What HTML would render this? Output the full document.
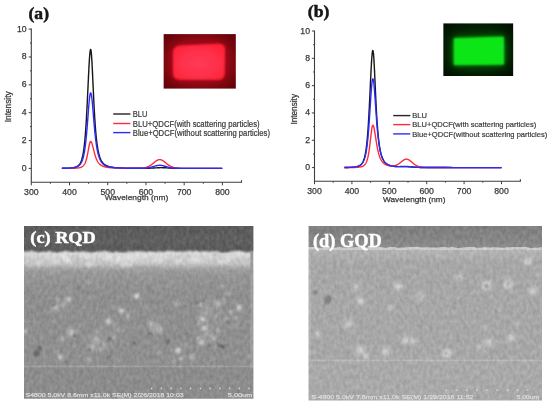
<!DOCTYPE html>
<html><head><meta charset="utf-8"><title>Figure</title><style>
html,body{margin:0;padding:0;background:#fff;}
body{width:550px;height:406px;overflow:hidden;position:relative;}
svg{position:absolute;left:0;top:0;}
</style></head><body>
<svg width="550" height="406" viewBox="0 0 550 406">
<defs><filter id="soft" x="0" y="0" width="100%" height="100%"><feGaussianBlur stdDeviation="0.35"/></filter></defs>

<defs>
 <filter id="blur1" x="-20%" y="-20%" width="140%" height="140%"><feGaussianBlur stdDeviation="1.0"/></filter>
 <filter id="blur3" x="-30%" y="-30%" width="160%" height="160%"><feGaussianBlur stdDeviation="4.2"/></filter>
 <radialGradient id="rg" cx="0.5" cy="0.55" r="0.65"><stop offset="0" stop-color="#ff3a58"/><stop offset="0.6" stop-color="#ff2e48"/><stop offset="1" stop-color="#ff2034"/></radialGradient>
 <radialGradient id="ro" cx="0.5" cy="0.5" r="0.72"><stop offset="0.55" stop-color="#8a0a12"/><stop offset="1" stop-color="#5a0008"/></radialGradient>
 <radialGradient id="go" cx="0.5" cy="0.5" r="0.75"><stop offset="0.5" stop-color="#042204"/><stop offset="1" stop-color="#000c00"/></radialGradient>
 <clipPath id="rclip"><rect x="163.4" y="34.1" width="72.5" height="54.7"/></clipPath>
 <clipPath id="gclip"><rect x="443.2" y="23.2" width="70.2" height="52.9"/></clipPath>
</defs>
<g clip-path="url(#rclip)">
<rect x="163.4" y="34.1" width="72.5" height="54.7" fill="url(#ro)"/>
<path d="M181 45.6 L218 43.7 Q225 43.4 225 50 L224.6 73.5 Q224.5 79.8 218 79.8 L180 79.8 Q173 79.8 173 73 L173 53 Q173 46 181 45.6 Z" fill="#c01020" filter="url(#blur3)"/>
<path d="M181 45.6 L218 43.7 Q225 43.4 225 50 L224.6 73.5 Q224.5 79.8 218 79.8 L180 79.8 Q173 79.8 173 73 L173 53 Q173 46 181 45.6 Z" fill="url(#rg)" filter="url(#blur1)"/>
</g>
<g clip-path="url(#gclip)">
<rect x="443.2" y="23.2" width="70.2" height="52.9" fill="url(#go)"/>
<path d="M454.5 37.9 L503.2 36.4 Q504 36.4 504 37.3 L504.2 64 Q504.2 64.8 503.4 64.8 L454.5 65.2 Q453.6 65.2 453.6 64.3 L453.6 38.8 Q453.6 37.9 454.5 37.9 Z" fill="#0a8a10" filter="url(#blur3)"/>
<path d="M454.5 37.9 L503.2 36.4 Q504 36.4 504 37.3 L504.2 64 Q504.2 64.8 503.4 64.8 L454.5 65.2 Q453.6 65.2 453.6 64.3 L453.6 38.8 Q453.6 37.9 454.5 37.9 Z" fill="#0ae614" filter="url(#blur1)"/>
<circle cx="502" cy="48" r="0.9" fill="#30c8a0"/>
</g>

<g filter="url(#soft)">

<g font-family="Liberation Serif, Times New Roman, serif" font-weight="bold" fill="#141414" stroke="#141414" stroke-width="0.5" font-size="17.6">
<text x="28.5" y="18.6" textLength="20.5" lengthAdjust="spacingAndGlyphs">(a)</text>
<text x="307.8" y="17.3" textLength="21.6" lengthAdjust="spacingAndGlyphs">(b)</text>
</g>

<path d="M31.3 28.6V182.3H241.5V180.3" fill="none" stroke="#3c3c3c" stroke-width="1.1"/>
<path d="M28.70 168.40H31.3" stroke="#3c3c3c" stroke-width="1"/>
<path d="M30.00 154.47H31.3" stroke="#3c3c3c" stroke-width="1"/>
<path d="M28.70 140.54H31.3" stroke="#3c3c3c" stroke-width="1"/>
<path d="M30.00 126.61H31.3" stroke="#3c3c3c" stroke-width="1"/>
<path d="M28.70 112.68H31.3" stroke="#3c3c3c" stroke-width="1"/>
<path d="M30.00 98.75H31.3" stroke="#3c3c3c" stroke-width="1"/>
<path d="M28.70 84.82H31.3" stroke="#3c3c3c" stroke-width="1"/>
<path d="M30.00 70.89H31.3" stroke="#3c3c3c" stroke-width="1"/>
<path d="M28.70 56.96H31.3" stroke="#3c3c3c" stroke-width="1"/>
<path d="M30.00 43.03H31.3" stroke="#3c3c3c" stroke-width="1"/>
<path d="M28.70 29.10H31.3" stroke="#3c3c3c" stroke-width="1"/>
<path d="M31.30 182.3V185.3" stroke="#3c3c3c" stroke-width="1"/>
<path d="M50.41 182.3V183.8" stroke="#3c3c3c" stroke-width="1"/>
<path d="M69.52 182.3V185.3" stroke="#3c3c3c" stroke-width="1"/>
<path d="M88.63 182.3V183.8" stroke="#3c3c3c" stroke-width="1"/>
<path d="M107.74 182.3V185.3" stroke="#3c3c3c" stroke-width="1"/>
<path d="M126.85 182.3V183.8" stroke="#3c3c3c" stroke-width="1"/>
<path d="M145.96 182.3V185.3" stroke="#3c3c3c" stroke-width="1"/>
<path d="M165.07 182.3V183.8" stroke="#3c3c3c" stroke-width="1"/>
<path d="M184.18 182.3V185.3" stroke="#3c3c3c" stroke-width="1"/>
<path d="M203.29 182.3V183.8" stroke="#3c3c3c" stroke-width="1"/>
<path d="M222.40 182.3V185.3" stroke="#3c3c3c" stroke-width="1"/>
<g font-family="Liberation Sans, Arial, sans-serif" font-size="8.7" fill="#383838" stroke="#383838" stroke-width="0.25">
<text x="26.7" y="170.90" text-anchor="end">0</text>
<text x="26.7" y="143.04" text-anchor="end">2</text>
<text x="26.7" y="115.18" text-anchor="end">4</text>
<text x="26.7" y="87.32" text-anchor="end">6</text>
<text x="26.7" y="59.46" text-anchor="end">8</text>
<text x="26.7" y="31.60" text-anchor="end">10</text>
<text x="31.30" y="194.6" text-anchor="middle">300</text>
<text x="69.52" y="194.6" text-anchor="middle">400</text>
<text x="107.74" y="194.6" text-anchor="middle">500</text>
<text x="145.96" y="194.6" text-anchor="middle">600</text>
<text x="184.18" y="194.6" text-anchor="middle">700</text>
<text x="222.40" y="194.6" text-anchor="middle">800</text>
<text x="104.7" y="200.3" textLength="63.5" lengthAdjust="spacingAndGlyphs" font-size="7.9">Wavelength (nm)</text>
<text transform="translate(11.2 122.3) rotate(-90)" textLength="31.0" lengthAdjust="spacingAndGlyphs" font-size="8.6">Intensity</text>
</g>
<path d="M61.88,168.33 62.64,168.32 63.40,168.30 64.17,168.29 64.93,168.28 65.70,168.26 66.46,168.24 67.23,168.21 67.99,168.18 68.18,168.17 68.37,168.16 68.56,168.15 68.76,168.14 68.95,168.13 69.14,168.12 69.33,168.11 69.52,168.10 69.71,168.09 69.90,168.07 70.09,168.06 70.28,168.05 70.48,168.03 70.67,168.01 70.86,168.00 71.05,167.98 71.24,167.96 71.43,167.94 71.62,167.92 71.81,167.90 72.00,167.88 72.20,167.85 72.39,167.83 72.58,167.80 72.77,167.77 72.96,167.75 73.15,167.71 73.34,167.68 73.53,167.65 73.72,167.61 73.92,167.57 74.11,167.53 74.30,167.49 74.49,167.44 74.68,167.39 74.87,167.34 75.06,167.28 75.25,167.22 75.44,167.16 75.64,167.10 75.83,167.03 76.02,166.95 76.21,166.87 76.40,166.79 76.59,166.70 76.78,166.60 76.97,166.50 77.16,166.39 77.36,166.27 77.55,166.15 77.74,166.02 77.93,165.88 78.12,165.73 78.31,165.56 78.50,165.39 78.69,165.20 78.88,165.01 79.08,164.79 79.27,164.56 79.46,164.32 79.65,164.05 79.84,163.77 80.03,163.47 80.22,163.14 80.41,162.79 80.60,162.41 80.79,162.01 80.99,161.57 81.18,161.10 81.37,160.59 81.56,160.05 81.75,159.46 81.94,158.82 82.13,158.14 82.32,157.40 82.51,156.60 82.71,155.75 82.90,154.82 83.09,153.83 83.28,152.75 83.47,151.59 83.66,150.35 83.85,149.00 84.04,147.56 84.23,146.01 84.43,144.34 84.62,142.54 84.81,140.62 85.00,138.57 85.19,136.37 85.38,134.03 85.57,131.53 85.76,128.87 85.95,126.05 86.15,123.08 86.34,119.94 86.53,116.64 86.72,113.18 86.91,109.58 87.10,105.85 87.29,101.99 87.48,98.03 87.67,93.99 87.87,89.90 88.06,85.79 88.25,81.69 88.44,77.64 88.63,73.69 88.82,69.88 89.01,66.26 89.20,62.87 89.39,59.78 89.59,57.01 89.78,54.63 89.97,52.65 90.16,51.13 90.35,50.08 90.54,49.53 90.73,49.49 90.92,50.03 91.11,51.17 91.31,52.86 91.50,55.08 91.69,57.77 91.88,60.86 92.07,64.31 92.26,68.02 92.45,71.95 92.64,76.03 92.83,80.19 93.03,84.39 93.22,88.57 93.41,92.70 93.60,96.74 93.79,100.67 93.98,104.46 94.17,108.11 94.36,111.59 94.55,114.91 94.75,118.06 94.94,121.04 95.13,123.85 95.32,126.50 95.51,128.98 95.70,131.32 95.89,133.51 96.08,135.56 96.27,137.48 96.47,139.27 96.66,140.95 96.85,142.52 97.04,143.99 97.23,145.36 97.42,146.64 97.61,147.83 97.80,148.95 97.99,150.00 98.18,150.98 98.38,151.90 98.57,152.76 98.76,153.56 98.95,154.32 99.14,155.03 99.33,155.69 99.52,156.31 99.71,156.90 99.90,157.45 100.10,157.97 100.29,158.45 100.48,158.91 100.67,159.35 100.86,159.75 101.05,160.14 101.24,160.50 101.43,160.85 101.62,161.17 101.82,161.48 102.01,161.77 102.20,162.04 102.39,162.30 102.58,162.55 102.77,162.78 102.96,163.00 103.15,163.21 103.34,163.41 103.54,163.61 103.73,163.79 103.92,163.96 104.11,164.12 104.30,164.28 104.49,164.43 104.68,164.57 104.87,164.71 105.06,164.83 105.26,164.96 105.45,165.08 105.64,165.19 105.83,165.30 106.02,165.40 106.21,165.50 106.40,165.59 106.59,165.68 106.78,165.77 106.98,165.85 107.17,165.93 107.36,166.01 107.55,166.08 107.74,166.15 107.93,166.22 108.12,166.28 108.31,166.35 108.50,166.41 108.70,166.46 108.89,166.52 109.08,166.57 109.27,166.62 109.46,166.67 109.65,166.72 109.84,166.77 110.03,166.81 110.22,166.86 110.42,166.90 110.61,166.94 110.80,166.98 110.99,167.01 111.18,167.05 111.37,167.08 111.56,167.12 111.75,167.15 111.94,167.18 112.14,167.21 112.33,167.24 112.52,167.27 112.71,167.30 112.90,167.32 113.09,167.35 113.28,167.37 113.47,167.40 113.66,167.42 114.43,167.51 115.19,167.58 115.96,167.65 116.72,167.71 117.49,167.77 118.25,167.82 119.01,167.86 119.78,167.90 120.54,167.94 121.31,167.97 122.07,168.00 122.84,168.02 123.60,168.05 124.37,168.07 125.13,168.09 125.89,168.11 126.66,168.13 127.42,168.14 128.19,168.16 128.95,168.17 129.72,168.19 130.48,168.20 131.25,168.21 132.01,168.22 132.77,168.23 133.54,168.24 134.30,168.24 135.07,168.25 135.83,168.26 136.60,168.26 137.36,168.27 138.12,168.27 138.89,168.28 139.65,168.28 140.42,168.28 141.18,168.28 141.95,168.29 142.71,168.28 143.48,168.28 144.24,168.28 145.00,168.27 145.77,168.27 146.53,168.26 147.30,168.24 148.06,168.23 148.83,168.21 149.59,168.19 150.36,168.16 151.12,168.13 151.88,168.09 152.65,168.06 153.41,168.01 154.18,167.97 154.94,167.92 155.71,167.87 156.47,167.83 157.23,167.78 158.00,167.75 158.76,167.71 159.53,167.69 160.29,167.67 161.06,167.67 161.82,167.67 162.59,167.68 163.35,167.71 164.11,167.74 164.88,167.78 165.64,167.82 166.41,167.87 167.17,167.92 167.94,167.97 168.70,168.01 169.47,168.06 170.23,168.11 170.99,168.15 171.76,168.18 172.52,168.21 173.29,168.24 174.05,168.27 174.82,168.29 175.58,168.30 176.34,168.32 177.11,168.33 177.87,168.34 178.64,168.35 179.40,168.36 180.17,168.36 180.93,168.37 181.70,168.37 182.46,168.37 183.22,168.38 183.99,168.38 184.75,168.38 185.52,168.38 186.28,168.38 187.05,168.38 187.81,168.38 188.58,168.38 189.34,168.38 190.10,168.39 190.87,168.39 191.63,168.39 192.40,168.39 193.16,168.39 193.93,168.39 194.69,168.39 195.45,168.39 196.22,168.39 196.98,168.39 197.75,168.39 198.51,168.39 199.28,168.39 200.04,168.39 200.81,168.39 201.57,168.39 202.33,168.39 203.10,168.39 203.86,168.39 204.63,168.39 205.39,168.39 206.16,168.39 206.92,168.39 207.69,168.39 208.45,168.39 209.21,168.39 209.98,168.39 210.74,168.39 211.51,168.39 212.27,168.39 213.04,168.39 213.80,168.39 214.56,168.39 215.33,168.39 216.09,168.39 216.86,168.39 217.62,168.39 218.39,168.39 219.15,168.39 219.92,168.39 220.68,168.39 221.44,168.39 222.21,168.39" fill="none" stroke="#161616" stroke-width="1.4" stroke-linejoin="round"/>
<path d="M61.88,168.38 62.64,168.38 63.40,168.38 64.17,168.38 64.93,168.38 65.70,168.37 66.46,168.37 67.23,168.36 67.99,168.36 68.18,168.36 68.37,168.36 68.56,168.35 68.76,168.35 68.95,168.35 69.14,168.35 69.33,168.35 69.52,168.34 69.71,168.34 69.90,168.34 70.09,168.34 70.28,168.34 70.48,168.33 70.67,168.33 70.86,168.33 71.05,168.32 71.24,168.32 71.43,168.32 71.62,168.31 71.81,168.31 72.00,168.31 72.20,168.30 72.39,168.30 72.58,168.29 72.77,168.29 72.96,168.29 73.15,168.28 73.34,168.27 73.53,168.27 73.72,168.26 73.92,168.26 74.11,168.25 74.30,168.24 74.49,168.24 74.68,168.23 74.87,168.22 75.06,168.21 75.25,168.20 75.44,168.19 75.64,168.18 75.83,168.17 76.02,168.16 76.21,168.14 76.40,168.13 76.59,168.12 76.78,168.10 76.97,168.08 77.16,168.07 77.36,168.05 77.55,168.03 77.74,168.01 77.93,167.98 78.12,167.96 78.31,167.93 78.50,167.91 78.69,167.88 78.88,167.85 79.08,167.81 79.27,167.78 79.46,167.74 79.65,167.69 79.84,167.65 80.03,167.60 80.22,167.55 80.41,167.49 80.60,167.43 80.79,167.37 80.99,167.29 81.18,167.22 81.37,167.14 81.56,167.05 81.75,166.95 81.94,166.84 82.13,166.73 82.32,166.61 82.51,166.47 82.71,166.33 82.90,166.17 83.09,166.00 83.28,165.82 83.47,165.62 83.66,165.40 83.85,165.16 84.04,164.90 84.23,164.62 84.43,164.32 84.62,163.99 84.81,163.63 85.00,163.24 85.19,162.82 85.38,162.36 85.57,161.87 85.76,161.34 85.95,160.76 86.15,160.15 86.34,159.48 86.53,158.78 86.72,158.02 86.91,157.22 87.10,156.37 87.29,155.48 87.48,154.54 87.67,153.57 87.87,152.56 88.06,151.53 88.25,150.48 88.44,149.43 88.63,148.38 88.82,147.35 89.01,146.35 89.20,145.41 89.39,144.53 89.59,143.74 89.78,143.05 89.97,142.47 90.16,142.02 90.35,141.71 90.54,141.54 90.73,141.52 90.92,141.61 91.11,141.78 91.31,142.05 91.50,142.39 91.69,142.82 91.88,143.32 92.07,143.88 92.26,144.49 92.45,145.15 92.64,145.85 92.83,146.58 93.03,147.33 93.22,148.10 93.41,148.87 93.60,149.65 93.79,150.42 93.98,151.17 94.17,151.92 94.36,152.65 94.55,153.36 94.75,154.05 94.94,154.71 95.13,155.35 95.32,155.97 95.51,156.56 95.70,157.12 95.89,157.66 96.08,158.17 96.27,158.66 96.47,159.12 96.66,159.56 96.85,159.98 97.04,160.38 97.23,160.76 97.42,161.11 97.61,161.45 97.80,161.77 97.99,162.08 98.18,162.36 98.38,162.64 98.57,162.89 98.76,163.14 98.95,163.37 99.14,163.59 99.33,163.80 99.52,163.99 99.71,164.18 99.90,164.36 100.10,164.52 100.29,164.68 100.48,164.83 100.67,164.98 100.86,165.11 101.05,165.24 101.24,165.37 101.43,165.48 101.62,165.59 101.82,165.70 102.01,165.80 102.20,165.90 102.39,165.99 102.58,166.08 102.77,166.16 102.96,166.24 103.15,166.32 103.34,166.39 103.54,166.46 103.73,166.52 103.92,166.59 104.11,166.65 104.30,166.71 104.49,166.76 104.68,166.81 104.87,166.86 105.06,166.91 105.26,166.96 105.45,167.01 105.64,167.05 105.83,167.09 106.02,167.13 106.21,167.17 106.40,167.20 106.59,167.24 106.78,167.27 106.98,167.31 107.17,167.34 107.36,167.37 107.55,167.40 107.74,167.42 107.93,167.45 108.12,167.48 108.31,167.50 108.50,167.53 108.70,167.55 108.89,167.57 109.08,167.59 109.27,167.61 109.46,167.63 109.65,167.65 109.84,167.67 110.03,167.69 110.22,167.71 110.42,167.73 110.61,167.74 110.80,167.76 110.99,167.77 111.18,167.79 111.37,167.80 111.56,167.82 111.75,167.83 111.94,167.84 112.14,167.86 112.33,167.87 112.52,167.88 112.71,167.89 112.90,167.90 113.09,167.91 113.28,167.92 113.47,167.94 113.66,167.95 114.43,167.98 115.19,168.02 115.96,168.05 116.72,168.07 117.49,168.10 118.25,168.12 119.01,168.14 119.78,168.16 120.54,168.17 121.31,168.19 122.07,168.20 122.84,168.21 123.60,168.22 124.37,168.23 125.13,168.24 125.89,168.25 126.66,168.26 127.42,168.27 128.19,168.27 128.95,168.28 129.72,168.28 130.48,168.29 131.25,168.29 132.01,168.29 132.77,168.29 133.54,168.29 134.30,168.29 135.07,168.29 135.83,168.28 136.60,168.28 137.36,168.26 137.55,168.26 137.74,168.26 137.93,168.25 138.12,168.25 138.32,168.24 138.51,168.24 138.70,168.23 138.89,168.23 139.08,168.22 139.27,168.21 139.46,168.21 139.65,168.20 139.84,168.19 140.04,168.18 140.23,168.17 140.42,168.16 140.61,168.15 140.80,168.14 140.99,168.13 141.18,168.11 141.37,168.10 141.56,168.08 141.76,168.07 141.95,168.05 142.14,168.03 142.33,168.02 142.52,168.00 142.71,167.98 142.90,167.95 143.09,167.93 143.28,167.91 143.48,167.88 143.67,167.85 143.86,167.82 144.05,167.79 144.24,167.76 144.43,167.73 144.62,167.69 144.81,167.65 145.00,167.61 145.20,167.57 145.39,167.53 145.58,167.48 145.77,167.43 145.96,167.38 146.15,167.33 146.34,167.28 146.53,167.22 146.72,167.16 146.92,167.09 147.11,167.03 147.30,166.96 147.49,166.89 147.68,166.81 147.87,166.74 148.06,166.65 148.25,166.57 148.44,166.48 148.64,166.39 148.83,166.30 149.02,166.20 149.21,166.10 149.40,166.00 149.59,165.89 149.78,165.78 149.97,165.66 150.16,165.55 150.36,165.43 150.55,165.30 150.74,165.18 150.93,165.05 151.12,164.91 151.31,164.78 151.50,164.64 151.69,164.49 151.88,164.35 152.08,164.20 152.27,164.05 152.46,163.90 152.65,163.75 152.84,163.60 153.03,163.44 153.22,163.28 153.41,163.13 153.60,162.97 153.80,162.81 153.99,162.65 154.18,162.49 154.37,162.33 154.56,162.18 154.75,162.02 154.94,161.87 155.13,161.72 155.32,161.57 155.51,161.42 155.71,161.28 155.90,161.14 156.09,161.00 156.28,160.87 156.47,160.74 156.66,160.62 156.85,160.51 157.04,160.39 157.23,160.29 157.43,160.19 157.62,160.10 157.81,160.02 158.00,159.94 158.19,159.87 158.38,159.81 158.57,159.75 158.76,159.71 158.95,159.67 159.15,159.64 159.34,159.62 159.53,159.60 159.72,159.60 159.91,159.61 160.10,159.62 160.29,159.64 160.48,159.67 160.67,159.71 160.87,159.75 161.06,159.81 161.25,159.87 161.44,159.94 161.63,160.02 161.82,160.10 162.01,160.20 162.20,160.29 162.39,160.40 162.59,160.51 162.78,160.63 162.97,160.75 163.16,160.88 163.35,161.01 163.54,161.14 163.73,161.28 163.92,161.43 164.11,161.57 164.31,161.72 164.50,161.88 164.69,162.03 164.88,162.19 165.07,162.34 165.26,162.50 165.45,162.66 165.64,162.82 165.83,162.98 166.03,163.14 166.22,163.30 166.41,163.45 166.60,163.61 166.79,163.76 166.98,163.92 167.17,164.07 167.36,164.22 167.55,164.37 167.75,164.51 167.94,164.65 168.13,164.79 168.32,164.93 168.51,165.06 168.70,165.19 168.89,165.32 169.08,165.44 169.27,165.57 169.47,165.68 169.66,165.80 169.85,165.91 170.04,166.02 170.23,166.12 170.42,166.22 170.61,166.32 170.80,166.41 170.99,166.51 171.19,166.59 171.38,166.68 171.57,166.76 171.76,166.84 171.95,166.91 172.14,166.98 172.33,167.05 172.52,167.12 172.71,167.18 172.91,167.25 173.10,167.30 173.29,167.36 173.48,167.41 173.67,167.46 173.86,167.51 174.05,167.56 174.24,167.60 174.43,167.64 174.62,167.68 174.82,167.72 175.01,167.76 175.20,167.79 175.39,167.83 175.58,167.86 175.77,167.89 175.96,167.91 176.15,167.94 176.34,167.97 176.54,167.99 176.73,168.01 176.92,168.03 177.11,168.05 177.30,168.07 177.49,168.09 177.68,168.11 177.87,168.13 178.06,168.14 178.26,168.16 178.45,168.17 178.64,168.18 178.83,168.19 179.02,168.21 179.21,168.22 179.40,168.23 179.59,168.24 179.78,168.25 179.98,168.25 180.17,168.26 180.36,168.27 180.55,168.28 180.74,168.28 180.93,168.29 181.12,168.30 181.31,168.30 181.50,168.31 181.70,168.31 181.89,168.32 182.08,168.32 182.27,168.33 182.46,168.33 182.65,168.33 183.42,168.35 184.18,168.36 184.94,168.36 185.71,168.37 186.47,168.37 187.24,168.38 188.00,168.38 188.77,168.38 189.53,168.39 190.30,168.39 191.06,168.39 191.82,168.39 192.59,168.39 193.35,168.39 194.12,168.39 194.88,168.39 195.65,168.39 196.41,168.39 197.17,168.39 197.94,168.39 198.70,168.39 199.47,168.39 200.23,168.39 201.00,168.39 201.76,168.39 202.53,168.39 203.29,168.39 204.05,168.39 204.82,168.39 205.58,168.39 206.35,168.39 207.11,168.39 207.88,168.39 208.64,168.39 209.41,168.39 210.17,168.39 210.93,168.39 211.70,168.39 212.46,168.40 213.23,168.40 213.99,168.40 214.76,168.40 215.52,168.40 216.28,168.40 217.05,168.40 217.81,168.40 218.58,168.40 219.34,168.40 220.11,168.40 220.87,168.40 221.64,168.40 222.40,168.40" fill="none" stroke="#ff2b34" stroke-width="1.4" stroke-linejoin="round"/>
<path d="M61.88,168.31 62.64,168.30 63.40,168.29 64.17,168.27 64.93,168.26 65.70,168.24 66.46,168.22 67.23,168.19 67.99,168.16 68.18,168.15 68.37,168.15 68.56,168.14 68.76,168.13 68.95,168.12 69.14,168.11 69.33,168.10 69.52,168.09 69.71,168.07 69.90,168.06 70.09,168.05 70.28,168.04 70.48,168.02 70.67,168.01 70.86,167.99 71.05,167.98 71.24,167.96 71.43,167.94 71.62,167.93 71.81,167.91 72.00,167.89 72.20,167.87 72.39,167.84 72.58,167.82 72.77,167.80 72.96,167.77 73.15,167.74 73.34,167.72 73.53,167.69 73.72,167.66 73.92,167.62 74.11,167.59 74.30,167.55 74.49,167.51 74.68,167.47 74.87,167.43 75.06,167.39 75.25,167.34 75.44,167.29 75.64,167.23 75.83,167.18 76.02,167.12 76.21,167.06 76.40,166.99 76.59,166.92 76.78,166.84 76.97,166.76 77.16,166.68 77.36,166.59 77.55,166.50 77.74,166.40 77.93,166.29 78.12,166.17 78.31,166.05 78.50,165.92 78.69,165.79 78.88,165.64 79.08,165.48 79.27,165.32 79.46,165.14 79.65,164.95 79.84,164.75 80.03,164.53 80.22,164.30 80.41,164.05 80.60,163.78 80.79,163.50 80.99,163.20 81.18,162.87 81.37,162.52 81.56,162.15 81.75,161.74 81.94,161.31 82.13,160.85 82.32,160.36 82.51,159.82 82.71,159.25 82.90,158.64 83.09,157.98 83.28,157.28 83.47,156.52 83.66,155.71 83.85,154.84 84.04,153.91 84.23,152.91 84.43,151.84 84.62,150.69 84.81,149.47 85.00,148.17 85.19,146.78 85.38,145.30 85.57,143.73 85.76,142.06 85.95,140.30 86.15,138.44 86.34,136.49 86.53,134.44 86.72,132.29 86.91,130.06 87.10,127.75 87.29,125.36 87.48,122.91 87.67,120.42 87.87,117.89 88.06,115.35 88.25,112.82 88.44,110.32 88.63,107.88 88.82,105.53 89.01,103.30 89.20,101.21 89.39,99.29 89.59,97.58 89.78,96.11 89.97,94.89 90.16,93.95 90.35,93.30 90.54,92.96 90.73,92.92 90.92,93.19 91.11,93.73 91.31,94.56 91.50,95.64 91.69,96.97 91.88,98.52 92.07,100.26 92.26,102.16 92.45,104.21 92.64,106.36 92.83,108.60 93.03,110.89 93.22,113.22 93.41,115.56 93.60,117.89 93.79,120.19 93.98,122.46 94.17,124.67 94.36,126.83 94.55,128.91 94.75,130.92 94.94,132.85 95.13,134.70 95.32,136.47 95.51,138.15 95.70,139.76 95.89,141.28 96.08,142.72 96.27,144.08 96.47,145.37 96.66,146.59 96.85,147.74 97.04,148.83 97.23,149.85 97.42,150.82 97.61,151.72 97.80,152.58 97.99,153.39 98.18,154.15 98.38,154.86 98.57,155.53 98.76,156.17 98.95,156.77 99.14,157.33 99.33,157.86 99.52,158.36 99.71,158.84 99.90,159.28 100.10,159.70 100.29,160.10 100.48,160.48 100.67,160.83 100.86,161.17 101.05,161.48 101.24,161.78 101.43,162.07 101.62,162.34 101.82,162.59 102.01,162.83 102.20,163.06 102.39,163.28 102.58,163.49 102.77,163.68 102.96,163.87 103.15,164.05 103.34,164.22 103.54,164.38 103.73,164.53 103.92,164.68 104.11,164.81 104.30,164.95 104.49,165.07 104.68,165.19 104.87,165.31 105.06,165.42 105.26,165.52 105.45,165.62 105.64,165.72 105.83,165.81 106.02,165.89 106.21,165.98 106.40,166.06 106.59,166.13 106.78,166.21 106.98,166.28 107.17,166.35 107.36,166.41 107.55,166.47 107.74,166.53 107.93,166.59 108.12,166.65 108.31,166.70 108.50,166.75 108.70,166.80 108.89,166.85 109.08,166.89 109.27,166.93 109.46,166.98 109.65,167.02 109.84,167.06 110.03,167.09 110.22,167.13 110.42,167.16 110.61,167.20 110.80,167.23 110.99,167.26 111.18,167.29 111.37,167.32 111.56,167.35 111.75,167.38 111.94,167.40 112.14,167.43 112.33,167.45 112.52,167.48 112.71,167.50 112.90,167.52 113.09,167.54 113.28,167.56 113.47,167.58 113.66,167.60 114.43,167.68 115.19,167.74 115.96,167.80 116.72,167.85 117.49,167.89 118.25,167.93 119.01,167.97 119.78,168.00 120.54,168.03 121.31,168.06 122.07,168.08 122.84,168.11 123.60,168.13 124.37,168.14 125.13,168.16 125.89,168.18 126.66,168.19 127.42,168.20 128.19,168.21 128.95,168.22 129.72,168.23 130.48,168.24 131.25,168.25 132.01,168.26 132.77,168.26 133.54,168.27 134.30,168.27 135.07,168.28 135.83,168.28 136.60,168.28 137.36,168.28 138.12,168.28 138.89,168.27 139.65,168.27 140.42,168.26 141.18,168.24 141.95,168.22 142.71,168.20 143.48,168.17 144.24,168.13 145.00,168.08 145.77,168.02 146.53,167.95 147.30,167.86 148.06,167.75 148.83,167.63 149.59,167.49 150.36,167.33 151.12,167.15 151.88,166.96 152.65,166.75 153.41,166.53 154.18,166.31 154.94,166.09 155.71,165.89 156.47,165.70 157.23,165.54 158.00,165.42 158.76,165.34 159.53,165.31 160.29,165.32 161.06,165.38 161.82,165.48 162.59,165.63 163.35,165.80 164.11,166.00 164.88,166.21 165.64,166.44 166.41,166.66 167.17,166.87 167.94,167.08 168.70,167.27 169.47,167.44 170.23,167.59 170.99,167.73 171.76,167.84 172.52,167.94 173.29,168.02 174.05,168.09 174.82,168.15 175.58,168.20 176.34,168.24 177.11,168.27 177.87,168.29 178.64,168.31 179.40,168.33 180.17,168.34 180.93,168.35 181.70,168.36 182.46,168.37 183.22,168.37 183.99,168.38 184.75,168.38 185.52,168.38 186.28,168.38 187.05,168.38 187.81,168.39 188.58,168.39 189.34,168.39 190.10,168.39 190.87,168.39 191.63,168.39 192.40,168.39 193.16,168.39 193.93,168.39 194.69,168.39 195.45,168.39 196.22,168.39 196.98,168.39 197.75,168.39 198.51,168.39 199.28,168.39 200.04,168.39 200.81,168.39 201.57,168.39 202.33,168.39 203.10,168.39 203.86,168.39 204.63,168.39 205.39,168.39 206.16,168.39 206.92,168.39 207.69,168.39 208.45,168.39 209.21,168.39 209.98,168.39 210.74,168.39 211.51,168.39 212.27,168.39 213.04,168.39 213.80,168.40 214.56,168.40 215.33,168.40 216.09,168.40 216.86,168.40 217.62,168.40 218.39,168.40 219.15,168.40 219.92,168.40 220.68,168.40 221.44,168.40 222.21,168.40" fill="none" stroke="#2a2cff" stroke-width="1.4" stroke-linejoin="round"/>
<path d="M113.2 114.0H130.4" stroke="#262626" stroke-width="1.4"/>
<path d="M113.2 123.5H130.4" stroke="#ff2b34" stroke-width="1.4"/>
<path d="M113.2 132.6H130.4" stroke="#2a2cff" stroke-width="1.4"/>
<g font-family="Liberation Sans, Arial, sans-serif" font-size="8.3" fill="#383838" stroke="#383838" stroke-width="0.2">
<text x="132.8" y="116.9" textLength="14.7" lengthAdjust="spacingAndGlyphs">BLU</text>
<text x="132.8" y="126.5" textLength="126.8" lengthAdjust="spacingAndGlyphs">BLU+QDCF(with scattering particles)</text>
<text x="132.8" y="135.6" textLength="137.2" lengthAdjust="spacingAndGlyphs">Blue+QDCF(without scattering particles)</text>
</g>
<path d="M314.5 30.5V181.2H520.4V179.2" fill="none" stroke="#3c3c3c" stroke-width="1.1"/>
<path d="M311.90 167.60H314.5" stroke="#3c3c3c" stroke-width="1"/>
<path d="M313.20 153.94H314.5" stroke="#3c3c3c" stroke-width="1"/>
<path d="M311.90 140.28H314.5" stroke="#3c3c3c" stroke-width="1"/>
<path d="M313.20 126.62H314.5" stroke="#3c3c3c" stroke-width="1"/>
<path d="M311.90 112.96H314.5" stroke="#3c3c3c" stroke-width="1"/>
<path d="M313.20 99.30H314.5" stroke="#3c3c3c" stroke-width="1"/>
<path d="M311.90 85.64H314.5" stroke="#3c3c3c" stroke-width="1"/>
<path d="M313.20 71.98H314.5" stroke="#3c3c3c" stroke-width="1"/>
<path d="M311.90 58.32H314.5" stroke="#3c3c3c" stroke-width="1"/>
<path d="M313.20 44.66H314.5" stroke="#3c3c3c" stroke-width="1"/>
<path d="M311.90 31.00H314.5" stroke="#3c3c3c" stroke-width="1"/>
<path d="M314.50 181.2V184.2" stroke="#3c3c3c" stroke-width="1"/>
<path d="M333.20 181.2V182.7" stroke="#3c3c3c" stroke-width="1"/>
<path d="M351.90 181.2V184.2" stroke="#3c3c3c" stroke-width="1"/>
<path d="M370.60 181.2V182.7" stroke="#3c3c3c" stroke-width="1"/>
<path d="M389.30 181.2V184.2" stroke="#3c3c3c" stroke-width="1"/>
<path d="M408.00 181.2V182.7" stroke="#3c3c3c" stroke-width="1"/>
<path d="M426.70 181.2V184.2" stroke="#3c3c3c" stroke-width="1"/>
<path d="M445.40 181.2V182.7" stroke="#3c3c3c" stroke-width="1"/>
<path d="M464.10 181.2V184.2" stroke="#3c3c3c" stroke-width="1"/>
<path d="M482.80 181.2V182.7" stroke="#3c3c3c" stroke-width="1"/>
<path d="M501.50 181.2V184.2" stroke="#3c3c3c" stroke-width="1"/>
<g font-family="Liberation Sans, Arial, sans-serif" font-size="8.7" fill="#383838" stroke="#383838" stroke-width="0.25">
<text x="310.0" y="170.10" text-anchor="end">0</text>
<text x="310.0" y="142.78" text-anchor="end">2</text>
<text x="310.0" y="115.46" text-anchor="end">4</text>
<text x="310.0" y="88.14" text-anchor="end">6</text>
<text x="310.0" y="60.82" text-anchor="end">8</text>
<text x="310.0" y="33.50" text-anchor="end">10</text>
<text x="314.50" y="193.6" text-anchor="middle">300</text>
<text x="351.90" y="193.6" text-anchor="middle">400</text>
<text x="389.30" y="193.6" text-anchor="middle">500</text>
<text x="426.70" y="193.6" text-anchor="middle">600</text>
<text x="464.10" y="193.6" text-anchor="middle">700</text>
<text x="501.50" y="193.6" text-anchor="middle">800</text>
<text x="383.1" y="201.9" textLength="62.3" lengthAdjust="spacingAndGlyphs" font-size="7.9">Wavelength (nm)</text>
<text transform="translate(297.2 124.6) rotate(-90)" textLength="30.6" lengthAdjust="spacingAndGlyphs" font-size="8.6">Intensity</text>
</g>
<path d="M344.42,167.53 345.17,167.52 345.92,167.51 346.66,167.50 347.41,167.48 348.16,167.47 348.91,167.45 349.66,167.42 350.40,167.39 351.15,167.36 351.34,167.35 351.53,167.34 351.71,167.33 351.90,167.32 352.09,167.31 352.27,167.30 352.46,167.28 352.65,167.27 352.83,167.26 353.02,167.24 353.21,167.23 353.40,167.21 353.58,167.19 353.77,167.18 353.96,167.16 354.14,167.14 354.33,167.12 354.52,167.10 354.70,167.07 354.89,167.05 355.08,167.02 355.27,167.00 355.45,166.97 355.64,166.94 355.83,166.91 356.01,166.87 356.20,166.84 356.39,166.80 356.57,166.76 356.76,166.72 356.95,166.67 357.14,166.63 357.32,166.58 357.51,166.52 357.70,166.47 357.88,166.41 358.07,166.34 358.26,166.28 358.44,166.20 358.63,166.13 358.82,166.05 359.01,165.96 359.19,165.87 359.38,165.77 359.57,165.67 359.75,165.56 359.94,165.44 360.13,165.31 360.31,165.17 360.50,165.03 360.69,164.87 360.88,164.71 361.06,164.53 361.25,164.34 361.44,164.14 361.62,163.92 361.81,163.68 362.00,163.43 362.19,163.16 362.37,162.87 362.56,162.56 362.75,162.22 362.93,161.86 363.12,161.47 363.31,161.05 363.49,160.61 363.68,160.12 363.87,159.60 364.06,159.04 364.24,158.43 364.43,157.78 364.62,157.07 364.80,156.31 364.99,155.49 365.18,154.61 365.36,153.66 365.55,152.63 365.74,151.53 365.93,150.34 366.11,149.05 366.30,147.67 366.49,146.19 366.67,144.59 366.86,142.88 367.05,141.04 367.23,139.07 367.42,136.96 367.61,134.71 367.80,132.32 367.98,129.76 368.17,127.06 368.36,124.19 368.54,121.16 368.73,117.98 368.92,114.64 369.10,111.16 369.29,107.53 369.48,103.78 369.67,99.92 369.85,95.98 370.04,91.97 370.23,87.92 370.41,83.88 370.60,79.87 370.79,75.94 370.97,72.13 371.16,68.48 371.35,65.06 371.53,61.89 371.72,59.04 371.91,56.53 372.10,54.42 372.28,52.74 372.47,51.52 372.66,50.78 372.84,50.53 373.03,50.83 373.22,51.72 373.40,53.17 373.59,55.16 373.78,57.62 373.97,60.52 374.15,63.77 374.34,67.33 374.53,71.12 374.71,75.08 374.90,79.15 375.09,83.27 375.27,87.40 375.46,91.49 375.65,95.50 375.84,99.42 376.02,103.21 376.21,106.85 376.40,110.35 376.58,113.68 376.77,116.84 376.96,119.84 377.14,122.67 377.33,125.34 377.52,127.85 377.71,130.21 377.89,132.42 378.08,134.49 378.27,136.43 378.45,138.24 378.64,139.94 378.83,141.53 379.01,143.01 379.20,144.39 379.39,145.69 379.58,146.90 379.76,148.03 379.95,149.09 380.14,150.08 380.32,151.01 380.51,151.87 380.70,152.69 380.88,153.45 381.07,154.16 381.26,154.83 381.45,155.46 381.63,156.05 381.82,156.61 382.01,157.13 382.19,157.62 382.38,158.09 382.57,158.52 382.75,158.93 382.94,159.32 383.13,159.68 383.32,160.03 383.50,160.36 383.69,160.66 383.88,160.96 384.06,161.23 384.25,161.49 384.44,161.74 384.62,161.98 384.81,162.20 385.00,162.41 385.19,162.61 385.37,162.80 385.56,162.98 385.75,163.16 385.93,163.32 386.12,163.48 386.31,163.62 386.50,163.77 386.68,163.90 386.87,164.03 387.06,164.15 387.24,164.27 387.43,164.38 387.62,164.49 387.80,164.59 387.99,164.69 388.18,164.78 388.37,164.87 388.55,164.96 388.74,165.04 388.93,165.12 389.11,165.19 389.30,165.27 389.49,165.34 389.67,165.40 389.86,165.46 390.05,165.53 390.24,165.58 390.42,165.64 390.61,165.69 390.80,165.74 390.98,165.79 391.17,165.84 391.36,165.89 391.54,165.93 391.73,165.97 391.92,166.01 392.11,166.05 392.29,166.08 392.48,166.12 392.67,166.15 392.85,166.18 393.04,166.22 393.23,166.24 393.41,166.27 393.60,166.30 393.79,166.32 393.98,166.35 394.16,166.37 394.35,166.39 394.54,166.41 394.72,166.43 394.91,166.45 395.10,166.47 395.28,166.49 396.03,166.54 396.78,166.58 397.53,166.61 398.28,166.63 399.02,166.64 399.77,166.64 400.52,166.63 401.27,166.62 402.02,166.61 402.76,166.59 403.51,166.58 404.26,166.58 405.01,166.58 405.76,166.59 406.50,166.61 407.25,166.64 408.00,166.68 408.75,166.73 409.50,166.78 410.24,166.84 410.99,166.90 411.74,166.97 412.49,167.03 413.24,167.09 413.98,167.14 414.73,167.19 415.48,167.24 416.23,167.28 416.98,167.32 417.72,167.35 418.47,167.38 419.22,167.40 419.97,167.43 420.72,167.44 421.46,167.46 422.21,167.47 422.96,167.48 423.71,167.49 424.46,167.50 425.20,167.50 425.95,167.51 426.70,167.52 427.45,167.52 428.20,167.52 428.94,167.53 429.69,167.53 430.44,167.53 431.19,167.54 431.94,167.54 432.68,167.54 433.43,167.54 434.18,167.55 434.93,167.55 435.68,167.55 436.42,167.55 437.17,167.55 437.92,167.56 438.67,167.56 439.42,167.56 440.16,167.56 440.91,167.56 441.66,167.56 442.41,167.56 443.16,167.56 443.90,167.57 444.65,167.57 445.40,167.57 446.15,167.57 446.90,167.57 447.64,167.57 448.39,167.57 449.14,167.57 449.89,167.57 450.64,167.57 451.38,167.57 452.13,167.57 452.88,167.58 453.63,167.58 454.38,167.58 455.12,167.58 455.87,167.58 456.62,167.58 457.37,167.58 458.12,167.58 458.86,167.58 459.61,167.58 460.36,167.58 461.11,167.58 461.86,167.58 462.60,167.58 463.35,167.58 464.10,167.58 464.85,167.58 465.60,167.58 466.34,167.58 467.09,167.58 467.84,167.59 468.59,167.59 469.34,167.59 470.08,167.59 470.83,167.59 471.58,167.59 472.33,167.59 473.08,167.59 473.82,167.59 474.57,167.59 475.32,167.59 476.07,167.59 476.82,167.59 477.56,167.59 478.31,167.59 479.06,167.59 479.81,167.59 480.56,167.59 481.30,167.59 482.05,167.59 482.80,167.59 483.55,167.59 484.30,167.59 485.04,167.59 485.79,167.59 486.54,167.59 487.29,167.59 488.04,167.59 488.78,167.59 489.53,167.59 490.28,167.59 491.03,167.59 491.78,167.59 492.52,167.59 493.27,167.59 494.02,167.59 494.77,167.59 495.52,167.59 496.26,167.59 497.01,167.59 497.76,167.59 498.51,167.59 499.26,167.59 500.00,167.59 500.75,167.59 501.50,167.59" fill="none" stroke="#161616" stroke-width="1.4" stroke-linejoin="round"/>
<path d="M344.42,167.58 345.17,167.57 345.92,167.57 346.66,167.57 347.41,167.56 348.16,167.56 348.91,167.55 349.66,167.55 350.40,167.54 351.15,167.53 351.34,167.53 351.53,167.52 351.71,167.52 351.90,167.52 352.09,167.51 352.27,167.51 352.46,167.51 352.65,167.50 352.83,167.50 353.02,167.50 353.21,167.49 353.40,167.49 353.58,167.48 353.77,167.48 353.96,167.47 354.14,167.47 354.33,167.46 354.52,167.46 354.70,167.45 354.89,167.44 355.08,167.44 355.27,167.43 355.45,167.42 355.64,167.41 355.83,167.41 356.01,167.40 356.20,167.39 356.39,167.38 356.57,167.37 356.76,167.36 356.95,167.35 357.14,167.33 357.32,167.32 357.51,167.31 357.70,167.29 357.88,167.28 358.07,167.26 358.26,167.24 358.44,167.22 358.63,167.20 358.82,167.18 359.01,167.16 359.19,167.14 359.38,167.11 359.57,167.09 359.75,167.06 359.94,167.03 360.13,167.00 360.31,166.96 360.50,166.92 360.69,166.88 360.88,166.84 361.06,166.80 361.25,166.75 361.44,166.70 361.62,166.64 361.81,166.58 362.00,166.52 362.19,166.45 362.37,166.37 362.56,166.29 362.75,166.21 362.93,166.11 363.12,166.01 363.31,165.90 363.49,165.79 363.68,165.66 363.87,165.52 364.06,165.38 364.24,165.22 364.43,165.04 364.62,164.86 364.80,164.65 364.99,164.43 365.18,164.19 365.36,163.93 365.55,163.65 365.74,163.34 365.93,163.01 366.11,162.65 366.30,162.26 366.49,161.83 366.67,161.37 366.86,160.86 367.05,160.32 367.23,159.72 367.42,159.08 367.61,158.38 367.80,157.63 367.98,156.82 368.17,155.94 368.36,155.00 368.54,153.98 368.73,152.90 368.92,151.74 369.10,150.50 369.29,149.19 369.48,147.82 369.67,146.37 369.85,144.86 370.04,143.29 370.23,141.68 370.41,140.04 370.60,138.38 370.79,136.72 370.97,135.08 371.16,133.49 371.35,131.97 371.53,130.54 371.72,129.24 371.91,128.08 372.10,127.09 372.28,126.30 372.47,125.72 372.66,125.37 372.84,125.25 373.03,125.33 373.22,125.55 373.40,125.91 373.59,126.40 373.78,127.02 373.97,127.76 374.15,128.61 374.34,129.54 374.53,130.56 374.71,131.64 374.90,132.77 375.09,133.94 375.27,135.14 375.46,136.35 375.65,137.57 375.84,138.79 376.02,139.99 376.21,141.17 376.40,142.33 376.58,143.46 376.77,144.56 376.96,145.62 377.14,146.65 377.33,147.63 377.52,148.58 377.71,149.48 377.89,150.34 378.08,151.17 378.27,151.95 378.45,152.70 378.64,153.41 378.83,154.08 379.01,154.72 379.20,155.32 379.39,155.90 379.58,156.44 379.76,156.96 379.95,157.45 380.14,157.91 380.32,158.34 380.51,158.76 380.70,159.15 380.88,159.52 381.07,159.87 381.26,160.21 381.45,160.52 381.63,160.82 381.82,161.11 382.01,161.37 382.19,161.63 382.38,161.87 382.57,162.10 382.75,162.32 382.94,162.53 383.13,162.72 383.32,162.91 383.50,163.09 383.69,163.25 383.88,163.41 384.06,163.57 384.25,163.71 384.44,163.85 384.62,163.98 384.81,164.11 385.00,164.22 385.19,164.34 385.37,164.45 385.56,164.55 385.75,164.65 385.93,164.74 386.12,164.83 386.31,164.91 386.50,164.99 386.68,165.07 386.87,165.14 387.06,165.21 387.24,165.28 387.43,165.34 387.62,165.40 387.80,165.45 387.99,165.51 388.18,165.56 388.37,165.60 388.55,165.65 388.74,165.69 388.93,165.73 389.11,165.76 389.30,165.80 389.49,165.83 389.67,165.86 389.86,165.88 390.05,165.91 390.24,165.93 390.42,165.95 390.61,165.96 390.80,165.98 390.98,165.99 391.17,166.00 391.36,166.01 391.54,166.01 391.73,166.01 391.92,166.01 392.11,166.01 392.29,166.00 392.48,165.99 392.67,165.98 392.85,165.97 393.04,165.95 393.23,165.93 393.41,165.91 393.60,165.88 393.79,165.85 393.98,165.82 394.16,165.78 394.35,165.75 394.54,165.70 394.72,165.66 394.91,165.61 395.10,165.56 395.28,165.50 395.47,165.44 395.66,165.38 395.85,165.31 396.03,165.24 396.22,165.17 396.41,165.09 396.59,165.01 396.78,164.92 396.97,164.83 397.15,164.74 397.34,164.64 397.53,164.54 397.72,164.43 397.90,164.32 398.09,164.21 398.28,164.09 398.46,163.97 398.65,163.85 398.84,163.72 399.02,163.59 399.21,163.46 399.40,163.32 399.58,163.18 399.77,163.04 399.96,162.90 400.15,162.75 400.33,162.60 400.52,162.45 400.71,162.30 400.89,162.15 401.08,162.00 401.27,161.85 401.45,161.70 401.64,161.55 401.83,161.40 402.02,161.25 402.20,161.10 402.39,160.96 402.58,160.82 402.76,160.68 402.95,160.55 403.14,160.41 403.32,160.29 403.51,160.17 403.70,160.05 403.89,159.94 404.07,159.83 404.26,159.74 404.45,159.64 404.63,159.56 404.82,159.48 405.01,159.41 405.19,159.35 405.38,159.30 405.57,159.25 405.76,159.22 405.94,159.19 406.13,159.17 406.32,159.16 406.50,159.16 406.69,159.17 406.88,159.18 407.06,159.21 407.25,159.24 407.44,159.29 407.63,159.34 407.81,159.40 408.00,159.47 408.19,159.55 408.37,159.63 408.56,159.73 408.75,159.82 408.94,159.93 409.12,160.04 409.31,160.16 409.50,160.29 409.68,160.42 409.87,160.55 410.06,160.69 410.24,160.83 410.43,160.98 410.62,161.13 410.81,161.28 410.99,161.44 411.18,161.59 411.37,161.75 411.55,161.91 411.74,162.07 411.93,162.23 412.11,162.39 412.30,162.55 412.49,162.71 412.68,162.87 412.86,163.03 413.05,163.18 413.24,163.34 413.42,163.49 413.61,163.64 413.80,163.78 413.98,163.93 414.17,164.07 414.36,164.21 414.55,164.34 414.73,164.48 414.92,164.61 415.11,164.73 415.29,164.85 415.48,164.97 415.67,165.09 415.85,165.20 416.04,165.30 416.23,165.41 416.42,165.51 416.60,165.60 416.79,165.70 416.98,165.79 417.16,165.87 417.35,165.96 417.54,166.04 417.72,166.11 417.91,166.19 418.10,166.26 418.28,166.32 418.47,166.39 418.66,166.45 418.85,166.51 419.03,166.56 419.22,166.61 419.41,166.66 419.59,166.71 419.78,166.76 419.97,166.80 420.15,166.84 420.34,166.88 420.53,166.92 420.72,166.95 420.90,166.99 421.09,167.02 421.28,167.05 421.46,167.08 421.65,167.10 421.84,167.13 422.02,167.15 422.21,167.18 422.40,167.20 422.59,167.22 422.77,167.24 422.96,167.25 423.15,167.27 423.33,167.29 423.52,167.30 423.71,167.32 423.89,167.33 424.08,167.34 424.27,167.36 424.46,167.37 424.64,167.38 424.83,167.39 425.02,167.40 425.20,167.41 425.39,167.41 425.58,167.42 425.76,167.43 425.95,167.44 426.14,167.44 426.33,167.45 426.51,167.45 426.70,167.46 426.89,167.47 427.07,167.47 427.26,167.48 427.45,167.48 427.63,167.48 427.82,167.49 428.01,167.49 428.20,167.49 428.38,167.50 428.57,167.50 428.76,167.50 428.94,167.51 429.69,167.52 430.44,167.52 431.19,167.53 431.94,167.54 432.68,167.54 433.43,167.54 434.18,167.55 434.93,167.55 435.68,167.55 436.42,167.55 437.17,167.56 437.92,167.56 438.67,167.56 439.42,167.56 440.16,167.56 440.91,167.56 441.66,167.56 442.41,167.57 443.16,167.57 443.90,167.57 444.65,167.57 445.40,167.57 446.15,167.57 446.90,167.57 447.64,167.57 448.39,167.57 449.14,167.57 449.89,167.57 450.64,167.57 451.38,167.58 452.13,167.58 452.88,167.58 453.63,167.58 454.38,167.58 455.12,167.58 455.87,167.58 456.62,167.58 457.37,167.58 458.12,167.58 458.86,167.58 459.61,167.58 460.36,167.58 461.11,167.58 461.86,167.58 462.60,167.58 463.35,167.58 464.10,167.58 464.85,167.58 465.60,167.58 466.34,167.58 467.09,167.59 467.84,167.59 468.59,167.59 469.34,167.59 470.08,167.59 470.83,167.59 471.58,167.59 472.33,167.59 473.08,167.59 473.82,167.59 474.57,167.59 475.32,167.59 476.07,167.59 476.82,167.59 477.56,167.59 478.31,167.59 479.06,167.59 479.81,167.59 480.56,167.59 481.30,167.59 482.05,167.59 482.80,167.59 483.55,167.59 484.30,167.59 485.04,167.59 485.79,167.59 486.54,167.59 487.29,167.59 488.04,167.59 488.78,167.59 489.53,167.59 490.28,167.59 491.03,167.59 491.78,167.59 492.52,167.59 493.27,167.59 494.02,167.59 494.77,167.59 495.52,167.59 496.26,167.59 497.01,167.59 497.76,167.59 498.51,167.59 499.26,167.59 500.00,167.59 500.75,167.59 501.50,167.59" fill="none" stroke="#ff2b34" stroke-width="1.4" stroke-linejoin="round"/>
<path d="M344.42,167.50 345.17,167.49 345.92,167.47 346.66,167.46 347.41,167.44 348.16,167.42 348.91,167.39 349.66,167.37 350.40,167.33 351.15,167.29 351.34,167.28 351.53,167.27 351.71,167.26 351.90,167.25 352.09,167.24 352.27,167.22 352.46,167.21 352.65,167.19 352.83,167.18 353.02,167.16 353.21,167.15 353.40,167.13 353.58,167.11 353.77,167.09 353.96,167.07 354.14,167.05 354.33,167.03 354.52,167.01 354.70,166.98 354.89,166.96 355.08,166.93 355.27,166.90 355.45,166.87 355.64,166.84 355.83,166.81 356.01,166.78 356.20,166.74 356.39,166.70 356.57,166.66 356.76,166.62 356.95,166.58 357.14,166.53 357.32,166.48 357.51,166.43 357.70,166.37 357.88,166.32 358.07,166.25 358.26,166.19 358.44,166.12 358.63,166.05 358.82,165.97 359.01,165.89 359.19,165.81 359.38,165.71 359.57,165.62 359.75,165.52 359.94,165.41 360.13,165.29 360.31,165.17 360.50,165.04 360.69,164.90 360.88,164.75 361.06,164.59 361.25,164.42 361.44,164.24 361.62,164.05 361.81,163.85 362.00,163.63 362.19,163.40 362.37,163.15 362.56,162.89 362.75,162.60 362.93,162.30 363.12,161.97 363.31,161.63 363.49,161.25 363.68,160.85 363.87,160.42 364.06,159.97 364.24,159.47 364.43,158.94 364.62,158.38 364.80,157.77 364.99,157.12 365.18,156.42 365.36,155.67 365.55,154.86 365.74,153.99 365.93,153.06 366.11,152.07 366.30,151.00 366.49,149.86 366.67,148.63 366.86,147.33 367.05,145.93 367.23,144.43 367.42,142.84 367.61,141.14 367.80,139.34 367.98,137.42 368.17,135.40 368.36,133.26 368.54,131.00 368.73,128.64 368.92,126.16 369.10,123.57 369.29,120.89 369.48,118.12 369.67,115.27 369.85,112.35 370.04,109.39 370.23,106.41 370.41,103.42 370.60,100.47 370.79,97.57 370.97,94.76 371.16,92.07 371.35,89.54 371.53,87.20 371.72,85.09 371.91,83.24 372.10,81.69 372.28,80.44 372.47,79.54 372.66,78.99 372.84,78.81 373.03,78.98 373.22,79.49 373.40,80.34 373.59,81.49 373.78,82.94 373.97,84.66 374.15,86.62 374.34,88.79 374.53,91.13 374.71,93.61 374.90,96.21 375.09,98.88 375.27,101.61 375.46,104.36 375.65,107.10 375.84,109.83 376.02,112.51 376.21,115.14 376.40,117.71 376.58,120.19 376.77,122.59 376.96,124.90 377.14,127.11 377.33,129.23 377.52,131.25 377.71,133.17 377.89,135.00 378.08,136.73 378.27,138.37 378.45,139.92 378.64,141.39 378.83,142.77 379.01,144.08 379.20,145.31 379.39,146.47 379.58,147.57 379.76,148.60 379.95,149.57 380.14,150.48 380.32,151.35 380.51,152.16 380.70,152.92 380.88,153.64 381.07,154.32 381.26,154.96 381.45,155.56 381.63,156.13 381.82,156.67 382.01,157.17 382.19,157.65 382.38,158.10 382.57,158.53 382.75,158.93 382.94,159.32 383.13,159.68 383.32,160.02 383.50,160.34 383.69,160.65 383.88,160.94 384.06,161.21 384.25,161.47 384.44,161.72 384.62,161.96 384.81,162.18 385.00,162.39 385.19,162.60 385.37,162.79 385.56,162.97 385.75,163.14 385.93,163.31 386.12,163.47 386.31,163.62 386.50,163.76 386.68,163.90 386.87,164.03 387.06,164.15 387.24,164.27 387.43,164.38 387.62,164.49 387.80,164.60 387.99,164.69 388.18,164.79 388.37,164.88 388.55,164.97 388.74,165.05 388.93,165.13 389.11,165.20 389.30,165.28 389.49,165.35 389.67,165.41 389.86,165.48 390.05,165.54 390.24,165.60 390.42,165.65 390.61,165.71 390.80,165.76 390.98,165.81 391.17,165.86 391.36,165.90 391.54,165.94 391.73,165.99 391.92,166.02 392.11,166.06 392.29,166.10 392.48,166.13 392.67,166.17 392.85,166.20 393.04,166.23 393.23,166.26 393.41,166.28 393.60,166.31 393.79,166.33 393.98,166.36 394.16,166.38 394.35,166.40 394.54,166.42 394.72,166.44 394.91,166.46 395.10,166.47 395.28,166.49 396.03,166.54 396.78,166.57 397.53,166.59 398.28,166.60 399.02,166.60 399.77,166.59 400.52,166.57 401.27,166.55 402.02,166.53 402.76,166.50 403.51,166.48 404.26,166.47 405.01,166.47 405.76,166.48 406.50,166.50 407.25,166.53 408.00,166.57 408.75,166.63 409.50,166.69 410.24,166.75 410.99,166.82 411.74,166.90 412.49,166.97 413.24,167.04 413.98,167.10 414.73,167.16 415.48,167.22 416.23,167.26 416.98,167.31 417.72,167.34 418.47,167.38 419.22,167.40 419.97,167.43 420.72,167.45 421.46,167.46 422.21,167.48 422.96,167.49 423.71,167.50 424.46,167.51 425.20,167.51 425.95,167.52 426.70,167.52 427.45,167.53 428.20,167.53 428.94,167.54 429.69,167.54 430.44,167.54 431.19,167.54 431.94,167.55 432.68,167.55 433.43,167.55 434.18,167.55 434.93,167.56 435.68,167.56 436.42,167.56 437.17,167.56 437.92,167.56 438.67,167.56 439.42,167.56 440.16,167.57 440.91,167.57 441.66,167.57 442.41,167.57 443.16,167.57 443.90,167.57 444.65,167.57 445.40,167.57 446.15,167.57 446.90,167.57 447.64,167.58 448.39,167.58 449.14,167.58 449.89,167.58 450.64,167.58 451.38,167.58 452.13,167.58 452.88,167.58 453.63,167.58 454.38,167.58 455.12,167.58 455.87,167.58 456.62,167.58 457.37,167.58 458.12,167.58 458.86,167.58 459.61,167.58 460.36,167.58 461.11,167.58 461.86,167.59 462.60,167.59 463.35,167.59 464.10,167.59 464.85,167.59 465.60,167.59 466.34,167.59 467.09,167.59 467.84,167.59 468.59,167.59 469.34,167.59 470.08,167.59 470.83,167.59 471.58,167.59 472.33,167.59 473.08,167.59 473.82,167.59 474.57,167.59 475.32,167.59 476.07,167.59 476.82,167.59 477.56,167.59 478.31,167.59 479.06,167.59 479.81,167.59 480.56,167.59 481.30,167.59 482.05,167.59 482.80,167.59 483.55,167.59 484.30,167.59 485.04,167.59 485.79,167.59 486.54,167.59 487.29,167.59 488.04,167.59 488.78,167.59 489.53,167.59 490.28,167.59 491.03,167.59 491.78,167.59 492.52,167.59 493.27,167.59 494.02,167.59 494.77,167.59 495.52,167.59 496.26,167.59 497.01,167.59 497.76,167.59 498.51,167.59 499.26,167.60 500.00,167.60 500.75,167.60 501.50,167.60" fill="none" stroke="#2a2cff" stroke-width="1.4" stroke-linejoin="round"/>
<path d="M393.2 115.6H410.3" stroke="#262626" stroke-width="1.4"/>
<path d="M393.2 124.6H410.3" stroke="#ff2b34" stroke-width="1.4"/>
<path d="M393.2 133.9H410.3" stroke="#2a2cff" stroke-width="1.4"/>
<g font-family="Liberation Sans, Arial, sans-serif" font-size="8.1" fill="#383838" stroke="#383838" stroke-width="0.2">
<text x="412.3" y="118.3" textLength="14.7" lengthAdjust="spacingAndGlyphs">BLU</text>
<text x="412.3" y="127.3" textLength="124.0" lengthAdjust="spacingAndGlyphs">BLU+QDCF(with scattering particles)</text>
<text x="412.3" y="136.5" textLength="135.0" lengthAdjust="spacingAndGlyphs">Blue+QDCF(without scattering particles)</text>
</g>
</g>
<defs>
 <clipPath id="cc"><rect x="24" y="226" width="229.4" height="172.8"/></clipPath>
 <clipPath id="cd"><rect x="308.5" y="226" width="233.5" height="174.5"/></clipPath>
 <linearGradient id="gtc" x1="0" y1="226" x2="0" y2="252" gradientUnits="userSpaceOnUse">
  <stop offset="0" stop-color="#5b5b5b"/>
  <stop offset="0.5" stop-color="#606060"/>
  <stop offset="1" stop-color="#5a5a5a"/>
 </linearGradient>
 <linearGradient id="gec" x1="0" y1="249" x2="0" y2="285" gradientUnits="userSpaceOnUse">
  <stop offset="0" stop-color="#dadada"/>
  <stop offset="0.17" stop-color="#d6d6d6"/>
  <stop offset="0.3" stop-color="#c8c8c8"/>
  <stop offset="0.4" stop-color="#c6c6c6"/>
  <stop offset="0.47" stop-color="#b4b4b4"/>
  <stop offset="0.56" stop-color="#a0a0a0"/>
  <stop offset="0.7" stop-color="#979797"/>
  <stop offset="1" stop-color="#919191"/>
 </linearGradient>
 <linearGradient id="gtd" x1="0" y1="226" x2="0" y2="249" gradientUnits="userSpaceOnUse">
  <stop offset="0" stop-color="#7e7e7e"/>
  <stop offset="0.6" stop-color="#868686"/>
  <stop offset="1" stop-color="#8e8e8e"/>
 </linearGradient>
 <linearGradient id="gbd" x1="0" y1="249" x2="0" y2="263" gradientUnits="userSpaceOnUse">
  <stop offset="0" stop-color="#b4b4b4"/>
  <stop offset="1" stop-color="#a7a7a7"/>
 </linearGradient>
 <filter id="pb1" x="-150%" y="-150%" width="400%" height="400%"><feGaussianBlur stdDeviation="0.9"/></filter>
 <filter id="pb2" x="-150%" y="-150%" width="400%" height="400%"><feGaussianBlur stdDeviation="1.5"/></filter>
 <filter id="sb1" x="-10%" y="-10%" width="120%" height="120%"><feGaussianBlur stdDeviation="0.9"/></filter>
 <filter id="sb05" x="-10%" y="-10%" width="120%" height="120%"><feGaussianBlur stdDeviation="0.5"/></filter>
 <filter id="sb07" x="-10%" y="-10%" width="120%" height="120%"><feGaussianBlur stdDeviation="0.7"/></filter>
 <filter id="sb2" x="-10%" y="-10%" width="120%" height="120%"><feGaussianBlur stdDeviation="1.5"/></filter>
 <filter id="grain" x="0" y="0" width="100%" height="100%" color-interpolation-filters="sRGB">
  <feTurbulence type="fractalNoise" baseFrequency="0.3 0.2" numOctaves="2" seed="5"/>
  <feColorMatrix type="matrix" values="1 0 0 0 0  1 0 0 0 0  1 0 0 0 0  0 0 0 0 1" result="n"/>
  <feComposite in="SourceGraphic" in2="n" operator="arithmetic" k1="0" k2="1" k3="0.14" k4="-0.07"/>
 </filter>
</defs>
<g clip-path="url(#cc)" filter="url(#grain)">
 <rect x="24" y="226" width="230" height="173" fill="#8f8f8f"/>
 <rect x="24" y="226" width="230" height="27" fill="url(#gtc)"/>
 <path d="M20.0 251.2 L24.0 251.3 L28.4 251.4 L32.7 250.4 L36.1 252.2 L39.9 252.3 L42.7 251.6 L45.7 251.9 L49.3 251.1 L52.2 251.8 L56.6 252.6 L59.4 252.6 L62.2 252.2 L64.9 251.0 L69.2 251.2 L72.1 252.5 L76.3 251.2 L80.8 251.8 L84.6 251.2 L89.0 252.1 L93.4 252.6 L96.5 251.6 L99.4 251.3 L102.0 251.6 L105.7 251.1 L109.6 251.7 L112.7 252.6 L116.1 251.6 L119.6 252.3 L122.2 252.8 L124.8 252.4 L129.0 251.1 L133.0 251.7 L136.7 251.0 L139.3 251.3 L143.7 251.4 L147.7 252.7 L152.1 251.6 L155.3 251.9 L159.3 251.1 L163.3 252.2 L167.6 250.8 L172.0 250.8 L175.1 251.7 L179.5 251.2 L183.8 251.5 L186.9 251.0 L189.8 250.5 L192.6 251.6 L197.1 250.6 L199.7 252.0 L203.3 251.0 L206.2 251.5 L210.4 251.6 L213.7 251.2 L218.1 251.5 L221.5 253.0 L224.3 252.6 L228.7 252.0 L232.8 250.9 L236.2 250.9 L240.3 251.1 L243.7 252.3 L248.0 252.4 L251.4 251.7 L255.3 251.8 V290 H20 Z" fill="url(#gec)" filter="url(#sb1)"/>
 <g filter="url(#sb2)">
 <ellipse cx="26.0" cy="259.0" rx="5.2" ry="2.9" fill="#c2c2c2" opacity="0.8"/>
<ellipse cx="32.3" cy="263.4" rx="3.8" ry="2.7" fill="#c2c2c2" opacity="0.8"/>
<ellipse cx="39.4" cy="262.7" rx="3.4" ry="2.0" fill="#e2e2e2" opacity="0.8"/>
<ellipse cx="46.1" cy="263.8" rx="5.5" ry="2.4" fill="#c2c2c2" opacity="0.8"/>
<ellipse cx="54.9" cy="261.2" rx="5.5" ry="1.7" fill="#e2e2e2" opacity="0.8"/>
<ellipse cx="63.1" cy="254.7" rx="3.1" ry="2.8" fill="#e6e6e6" opacity="0.8"/>
<ellipse cx="67.2" cy="259.1" rx="4.8" ry="2.8" fill="#e6e6e6" opacity="0.8"/>
<ellipse cx="72.4" cy="257.2" rx="3.0" ry="1.6" fill="#bebebe" opacity="0.8"/>
<ellipse cx="78.4" cy="260.1" rx="6.7" ry="1.6" fill="#bebebe" opacity="0.8"/>
<ellipse cx="84.0" cy="256.5" rx="4.2" ry="1.6" fill="#e2e2e2" opacity="0.8"/>
<ellipse cx="90.0" cy="263.3" rx="4.5" ry="2.9" fill="#e2e2e2" opacity="0.8"/>
<ellipse cx="95.1" cy="264.2" rx="3.2" ry="2.1" fill="#c2c2c2" opacity="0.8"/>
<ellipse cx="101.2" cy="260.2" rx="3.8" ry="2.5" fill="#bebebe" opacity="0.8"/>
<ellipse cx="105.6" cy="257.7" rx="6.9" ry="2.6" fill="#e2e2e2" opacity="0.8"/>
<ellipse cx="110.3" cy="261.8" rx="3.0" ry="2.2" fill="#c2c2c2" opacity="0.8"/>
<ellipse cx="115.2" cy="260.2" rx="4.8" ry="1.8" fill="#dedede" opacity="0.8"/>
<ellipse cx="121.3" cy="258.2" rx="4.6" ry="3.0" fill="#e2e2e2" opacity="0.8"/>
<ellipse cx="126.6" cy="264.7" rx="6.2" ry="2.0" fill="#e2e2e2" opacity="0.8"/>
<ellipse cx="131.7" cy="258.3" rx="6.4" ry="2.5" fill="#e2e2e2" opacity="0.8"/>
<ellipse cx="135.9" cy="255.6" rx="4.8" ry="1.5" fill="#e6e6e6" opacity="0.8"/>
<ellipse cx="141.5" cy="257.3" rx="3.3" ry="1.6" fill="#e6e6e6" opacity="0.8"/>
<ellipse cx="148.7" cy="254.2" rx="4.5" ry="2.4" fill="#dedede" opacity="0.8"/>
<ellipse cx="157.5" cy="259.3" rx="5.3" ry="2.8" fill="#dedede" opacity="0.8"/>
<ellipse cx="164.6" cy="257.4" rx="3.9" ry="2.4" fill="#dedede" opacity="0.8"/>
<ellipse cx="169.4" cy="260.9" rx="5.2" ry="2.5" fill="#c2c2c2" opacity="0.8"/>
<ellipse cx="177.9" cy="260.6" rx="4.7" ry="1.7" fill="#e2e2e2" opacity="0.8"/>
<ellipse cx="184.4" cy="256.8" rx="6.0" ry="2.1" fill="#c2c2c2" opacity="0.8"/>
<ellipse cx="192.5" cy="260.6" rx="4.2" ry="1.8" fill="#e2e2e2" opacity="0.8"/>
<ellipse cx="197.2" cy="259.3" rx="5.6" ry="2.4" fill="#e2e2e2" opacity="0.8"/>
<ellipse cx="202.6" cy="264.1" rx="3.8" ry="1.5" fill="#bebebe" opacity="0.8"/>
<ellipse cx="208.6" cy="256.7" rx="3.2" ry="1.9" fill="#e6e6e6" opacity="0.8"/>
<ellipse cx="215.5" cy="255.4" rx="4.4" ry="2.8" fill="#bebebe" opacity="0.8"/>
<ellipse cx="222.8" cy="261.6" rx="5.3" ry="1.7" fill="#e2e2e2" opacity="0.8"/>
<ellipse cx="231.4" cy="259.2" rx="4.4" ry="2.0" fill="#e2e2e2" opacity="0.8"/>
<ellipse cx="235.5" cy="261.0" rx="4.9" ry="2.6" fill="#bebebe" opacity="0.8"/>
<ellipse cx="240.2" cy="254.8" rx="4.8" ry="2.1" fill="#e2e2e2" opacity="0.8"/>
<ellipse cx="248.7" cy="262.1" rx="5.8" ry="2.7" fill="#bebebe" opacity="0.8"/>
 </g>
 <g filter="url(#sb1)" opacity="0.7">
 <circle cx="63.3" cy="338.1" r="1.4" fill="#a8a8a8"/>
<circle cx="74.8" cy="346.0" r="1.6" fill="#a8a8a8"/>
<circle cx="140.1" cy="303.2" r="0.8" fill="#a8a8a8"/>
<circle cx="158.3" cy="290.3" r="1.6" fill="#a8a8a8"/>
<circle cx="78.6" cy="288.3" r="1.8" fill="#7a7a7a"/>
<circle cx="223.8" cy="332.4" r="0.8" fill="#a8a8a8"/>
<circle cx="138.4" cy="293.9" r="1.8" fill="#a8a8a8"/>
<circle cx="61.0" cy="347.9" r="0.9" fill="#7a7a7a"/>
<circle cx="128.4" cy="327.5" r="1.1" fill="#a8a8a8"/>
<circle cx="68.2" cy="287.9" r="1.7" fill="#a8a8a8"/>
<circle cx="202.3" cy="301.1" r="1.8" fill="#7a7a7a"/>
<circle cx="196.6" cy="343.7" r="1.4" fill="#7a7a7a"/>
<circle cx="53.7" cy="321.7" r="1.6" fill="#a8a8a8"/>
<circle cx="234.6" cy="353.3" r="1.2" fill="#a8a8a8"/>
<circle cx="128.0" cy="314.7" r="1.8" fill="#a8a8a8"/>
<circle cx="32.1" cy="292.2" r="1.5" fill="#7a7a7a"/>
<circle cx="138.1" cy="322.8" r="1.4" fill="#7a7a7a"/>
<circle cx="76.2" cy="331.9" r="1.4" fill="#a8a8a8"/>
<circle cx="66.8" cy="298.1" r="1.1" fill="#7a7a7a"/>
<circle cx="104.3" cy="331.0" r="1.1" fill="#a8a8a8"/>
<circle cx="40.8" cy="347.7" r="1.6" fill="#a8a8a8"/>
<circle cx="180.4" cy="337.0" r="1.7" fill="#7a7a7a"/>
<circle cx="118.0" cy="361.2" r="1.8" fill="#a8a8a8"/>
<circle cx="225.6" cy="322.8" r="1.2" fill="#a8a8a8"/>
<circle cx="224.0" cy="297.5" r="0.9" fill="#7a7a7a"/>
<circle cx="200.9" cy="322.2" r="1.6" fill="#a8a8a8"/>
<circle cx="84.3" cy="307.3" r="1.2" fill="#a8a8a8"/>
<circle cx="41.7" cy="311.0" r="1.7" fill="#7a7a7a"/>
<circle cx="194.6" cy="321.9" r="1.1" fill="#7a7a7a"/>
<circle cx="144.8" cy="341.1" r="0.8" fill="#a8a8a8"/>
<circle cx="215.4" cy="346.2" r="1.7" fill="#a8a8a8"/>
<circle cx="122.3" cy="329.7" r="1.6" fill="#a8a8a8"/>
<circle cx="146.8" cy="306.3" r="1.6" fill="#a8a8a8"/>
<circle cx="180.9" cy="358.5" r="0.8" fill="#a8a8a8"/>
<circle cx="171.5" cy="350.6" r="1.4" fill="#a8a8a8"/>
<circle cx="117.7" cy="358.8" r="1.7" fill="#a8a8a8"/>
<circle cx="47.4" cy="292.2" r="0.8" fill="#a8a8a8"/>
<circle cx="57.8" cy="351.8" r="1.5" fill="#a8a8a8"/>
<circle cx="147.7" cy="310.0" r="1.3" fill="#a8a8a8"/>
<circle cx="63.5" cy="299.2" r="1.2" fill="#7a7a7a"/>
<circle cx="150.3" cy="288.6" r="1.5" fill="#7a7a7a"/>
<circle cx="201.0" cy="345.9" r="0.8" fill="#a8a8a8"/>
<circle cx="40.3" cy="343.8" r="1.0" fill="#7a7a7a"/>
<circle cx="83.2" cy="338.6" r="1.1" fill="#a8a8a8"/>
<circle cx="113.9" cy="308.8" r="1.7" fill="#a8a8a8"/>
<circle cx="139.7" cy="327.3" r="1.7" fill="#a8a8a8"/>
<circle cx="161.9" cy="324.1" r="1.5" fill="#7a7a7a"/>
<circle cx="96.1" cy="338.9" r="1.3" fill="#a8a8a8"/>
<circle cx="40.4" cy="347.7" r="1.8" fill="#a8a8a8"/>
<circle cx="97.9" cy="361.5" r="0.9" fill="#a8a8a8"/>
<circle cx="42.6" cy="347.7" r="1.6" fill="#a8a8a8"/>
<circle cx="166.4" cy="286.5" r="1.4" fill="#a8a8a8"/>
<circle cx="142.9" cy="315.0" r="1.2" fill="#a8a8a8"/>
<circle cx="37.0" cy="318.4" r="1.0" fill="#7a7a7a"/>
<circle cx="210.7" cy="340.7" r="1.3" fill="#a8a8a8"/>
<circle cx="113.1" cy="322.5" r="1.4" fill="#7a7a7a"/>
<circle cx="45.3" cy="321.9" r="1.3" fill="#7a7a7a"/>
<circle cx="227.2" cy="345.0" r="1.4" fill="#7a7a7a"/>
<circle cx="177.0" cy="351.1" r="1.5" fill="#a8a8a8"/>
<circle cx="81.4" cy="355.6" r="1.2" fill="#a8a8a8"/>
<circle cx="212.4" cy="359.2" r="1.8" fill="#a8a8a8"/>
<circle cx="96.7" cy="309.0" r="1.2" fill="#a8a8a8"/>
<circle cx="151.0" cy="291.1" r="1.1" fill="#7a7a7a"/>
<circle cx="193.8" cy="320.6" r="0.9" fill="#7a7a7a"/>
<circle cx="185.1" cy="300.8" r="1.1" fill="#a8a8a8"/>
<circle cx="180.0" cy="305.1" r="1.8" fill="#a8a8a8"/>
<circle cx="83.5" cy="350.1" r="1.0" fill="#a8a8a8"/>
<circle cx="71.2" cy="331.0" r="1.1" fill="#a8a8a8"/>
<circle cx="238.6" cy="321.0" r="1.2" fill="#a8a8a8"/>
<circle cx="89.4" cy="298.4" r="1.2" fill="#a8a8a8"/>
 <circle cx="242.6" cy="271.1" r="0.8" fill="#858585"/>
<circle cx="67.6" cy="270.7" r="1.5" fill="#a4a4a4"/>
<circle cx="227.0" cy="273.1" r="1.8" fill="#a4a4a4"/>
<circle cx="161.9" cy="288.5" r="1.5" fill="#858585"/>
<circle cx="186.0" cy="269.1" r="1.7" fill="#a4a4a4"/>
<circle cx="96.2" cy="272.2" r="1.6" fill="#a4a4a4"/>
<circle cx="238.0" cy="285.0" r="1.8" fill="#a4a4a4"/>
<circle cx="183.8" cy="281.5" r="1.1" fill="#858585"/>
<circle cx="96.6" cy="285.2" r="1.8" fill="#a4a4a4"/>
<circle cx="58.1" cy="286.2" r="1.5" fill="#a4a4a4"/>
<circle cx="37.1" cy="279.7" r="0.8" fill="#858585"/>
<circle cx="140.4" cy="279.4" r="1.2" fill="#a4a4a4"/>
<circle cx="233.1" cy="274.8" r="1.2" fill="#a4a4a4"/>
<circle cx="93.2" cy="281.1" r="1.3" fill="#a4a4a4"/>
<circle cx="178.2" cy="279.6" r="0.9" fill="#858585"/>
 </g>
 <rect x="250.4" y="252" width="3" height="147" fill="#9c9c9c" filter="url(#sb07)"/>
 <g filter="url(#pb2)" opacity="0.5">
  <ellipse cx="210" cy="322" rx="12" ry="24" fill="#9c9c9c"/>
  <ellipse cx="100" cy="340" rx="14" ry="12" fill="#9a9a9a"/>
  <ellipse cx="62" cy="304" rx="10" ry="8" fill="#9a9a9a"/>
  <ellipse cx="156" cy="327" rx="8" ry="7" fill="#9e9e9e"/>
 </g>
 <g>
 <circle cx="32.9" cy="276.8" r="2.2" fill="#a4a4a4" filter="url(#pb2)"/>
<circle cx="49.1" cy="272.4" r="2.0" fill="#a4a4a4" filter="url(#pb2)"/>
<circle cx="68.4" cy="299" r="3.8" fill="#a0a0a0" filter="url(#pb2)"/>
<circle cx="68.4" cy="299" r="1.9" fill="#d4d4d4" filter="url(#pb1)"/>
<circle cx="55.5" cy="307.7" r="4.2" fill="#a0a0a0" filter="url(#pb2)"/>
<circle cx="55.5" cy="307.7" r="2.0" fill="#bdbdbd" filter="url(#pb1)"/>
<circle cx="63.4" cy="304.8" r="2.8" fill="#a0a0a0" filter="url(#pb2)"/>
<circle cx="63.4" cy="304.8" r="1.3" fill="#bdbdbd" filter="url(#pb1)"/>
<circle cx="52.8" cy="310.8" r="2.2" fill="#a4a4a4" filter="url(#pb2)"/>
<circle cx="89.8" cy="282" r="2.2" fill="#a4a4a4" filter="url(#pb2)"/>
<circle cx="121.4" cy="310.7" r="3.9" fill="#a0a0a0" filter="url(#pb2)"/>
<circle cx="121.4" cy="310.7" r="2.0" fill="#d4d4d4" filter="url(#pb1)"/>
<circle cx="108.6" cy="321.5" r="4.5" fill="#a0a0a0" filter="url(#pb2)"/>
<circle cx="108.6" cy="321.5" r="2.2" fill="#d4d4d4" filter="url(#pb1)"/>
<circle cx="114.6" cy="325.4" r="2.2" fill="#a0a0a0" filter="url(#pb2)"/>
<circle cx="114.6" cy="325.4" r="1.0" fill="#bdbdbd" filter="url(#pb1)"/>
<circle cx="71.2" cy="332.3" r="5.6" fill="#a0a0a0" filter="url(#pb2)"/>
<circle cx="71.2" cy="332.3" r="2.6" fill="#bdbdbd" filter="url(#pb1)"/>
<circle cx="62.4" cy="339.2" r="2.8" fill="#a0a0a0" filter="url(#pb2)"/>
<circle cx="62.4" cy="339.2" r="1.3" fill="#bdbdbd" filter="url(#pb1)"/>
<circle cx="96.8" cy="339.2" r="4.2" fill="#a0a0a0" filter="url(#pb2)"/>
<circle cx="96.8" cy="339.2" r="2.0" fill="#bdbdbd" filter="url(#pb1)"/>
<circle cx="92.9" cy="347.1" r="4.9" fill="#a0a0a0" filter="url(#pb2)"/>
<circle cx="92.9" cy="347.1" r="2.3" fill="#bdbdbd" filter="url(#pb1)"/>
<circle cx="100.8" cy="349" r="2.8" fill="#a0a0a0" filter="url(#pb2)"/>
<circle cx="100.8" cy="349" r="1.3" fill="#bdbdbd" filter="url(#pb1)"/>
<circle cx="113.6" cy="337.2" r="2.8" fill="#a0a0a0" filter="url(#pb2)"/>
<circle cx="113.6" cy="337.2" r="1.3" fill="#bdbdbd" filter="url(#pb1)"/>
<circle cx="25" cy="331.3" r="3.0" fill="#a0a0a0" filter="url(#pb2)"/>
<circle cx="25" cy="331.3" r="1.5" fill="#d4d4d4" filter="url(#pb1)"/>
<circle cx="60.4" cy="357" r="3.8" fill="#a0a0a0" filter="url(#pb2)"/>
<circle cx="60.4" cy="357" r="1.9" fill="#d4d4d4" filter="url(#pb1)"/>
<circle cx="89" cy="358.9" r="2.8" fill="#a0a0a0" filter="url(#pb2)"/>
<circle cx="89" cy="358.9" r="1.3" fill="#bdbdbd" filter="url(#pb1)"/>
<circle cx="80.1" cy="325.4" r="2.2" fill="#a4a4a4" filter="url(#pb2)"/>
<circle cx="136.7" cy="295.9" r="4.5" fill="#a0a0a0" filter="url(#pb2)"/>
<circle cx="136.7" cy="295.9" r="2.2" fill="#d4d4d4" filter="url(#pb1)"/>
<circle cx="176.1" cy="303.8" r="2.8" fill="#a0a0a0" filter="url(#pb2)"/>
<circle cx="176.1" cy="303.8" r="1.3" fill="#bdbdbd" filter="url(#pb1)"/>
<circle cx="127.9" cy="316.6" r="2.8" fill="#a0a0a0" filter="url(#pb2)"/>
<circle cx="127.9" cy="316.6" r="1.3" fill="#bdbdbd" filter="url(#pb1)"/>
<circle cx="154.4" cy="326.4" r="5.5" fill="#a4a4a4" filter="url(#pb2)"/>
<circle cx="159.4" cy="329.4" r="4.2" fill="#a0a0a0" filter="url(#pb2)"/>
<circle cx="159.4" cy="329.4" r="2.0" fill="#bdbdbd" filter="url(#pb1)"/>
<circle cx="202.7" cy="319.5" r="4.5" fill="#a0a0a0" filter="url(#pb2)"/>
<circle cx="202.7" cy="319.5" r="2.2" fill="#d4d4d4" filter="url(#pb1)"/>
<circle cx="204.6" cy="328.4" r="4.5" fill="#a0a0a0" filter="url(#pb2)"/>
<circle cx="204.6" cy="328.4" r="2.2" fill="#d4d4d4" filter="url(#pb1)"/>
<circle cx="201.7" cy="342.2" r="4.5" fill="#a0a0a0" filter="url(#pb2)"/>
<circle cx="201.7" cy="342.2" r="2.2" fill="#d4d4d4" filter="url(#pb1)"/>
<circle cx="212.5" cy="337.2" r="2.8" fill="#a0a0a0" filter="url(#pb2)"/>
<circle cx="212.5" cy="337.2" r="1.3" fill="#bdbdbd" filter="url(#pb1)"/>
<circle cx="217.4" cy="303.8" r="3.5" fill="#a0a0a0" filter="url(#pb2)"/>
<circle cx="217.4" cy="303.8" r="1.6" fill="#bdbdbd" filter="url(#pb1)"/>
<circle cx="206.6" cy="307.7" r="2.8" fill="#a0a0a0" filter="url(#pb2)"/>
<circle cx="206.6" cy="307.7" r="1.3" fill="#bdbdbd" filter="url(#pb1)"/>
<circle cx="178.1" cy="350" r="4.5" fill="#a0a0a0" filter="url(#pb2)"/>
<circle cx="178.1" cy="350" r="2.2" fill="#d4d4d4" filter="url(#pb1)"/>
<circle cx="181" cy="358.9" r="2.8" fill="#a0a0a0" filter="url(#pb2)"/>
<circle cx="181" cy="358.9" r="1.3" fill="#bdbdbd" filter="url(#pb1)"/>
<circle cx="192.8" cy="357.9" r="2.8" fill="#a0a0a0" filter="url(#pb2)"/>
<circle cx="192.8" cy="357.9" r="1.3" fill="#bdbdbd" filter="url(#pb1)"/>
<circle cx="173.1" cy="360.9" r="2.2" fill="#a4a4a4" filter="url(#pb2)"/>
<circle cx="159.4" cy="353" r="2.2" fill="#a4a4a4" filter="url(#pb2)"/>
<circle cx="239.1" cy="307.4" r="4.5" fill="#a0a0a0" filter="url(#pb2)"/>
<circle cx="239.1" cy="307.4" r="2.2" fill="#d4d4d4" filter="url(#pb1)"/>
<circle cx="218.8" cy="304.7" r="3.5" fill="#a0a0a0" filter="url(#pb2)"/>
<circle cx="218.8" cy="304.7" r="1.6" fill="#bdbdbd" filter="url(#pb1)"/>
<circle cx="228.3" cy="293.9" r="2.8" fill="#a0a0a0" filter="url(#pb2)"/>
<circle cx="228.3" cy="293.9" r="1.3" fill="#bdbdbd" filter="url(#pb1)"/>
<circle cx="222.8" cy="285.7" r="2.2" fill="#a4a4a4" filter="url(#pb2)"/>
<circle cx="226.9" cy="318.3" r="2.8" fill="#a0a0a0" filter="url(#pb2)"/>
<circle cx="226.9" cy="318.3" r="1.3" fill="#bdbdbd" filter="url(#pb1)"/>
<circle cx="213.4" cy="338.6" r="2.8" fill="#a0a0a0" filter="url(#pb2)"/>
<circle cx="213.4" cy="338.6" r="1.3" fill="#bdbdbd" filter="url(#pb1)"/>
<circle cx="235" cy="325" r="2.2" fill="#a4a4a4" filter="url(#pb2)"/>
<circle cx="248.6" cy="356.2" r="2.2" fill="#a4a4a4" filter="url(#pb2)"/>
<circle cx="191.7" cy="356.2" r="2.8" fill="#a0a0a0" filter="url(#pb2)"/>
<circle cx="191.7" cy="356.2" r="1.3" fill="#bdbdbd" filter="url(#pb1)"/>
<circle cx="150" cy="280" r="1.8" fill="#a4a4a4" filter="url(#pb2)"/>
<circle cx="100" cy="268" r="1.7" fill="#a4a4a4" filter="url(#pb2)"/>
<circle cx="140" cy="270" r="1.7" fill="#a4a4a4" filter="url(#pb2)"/>
<circle cx="170" cy="284" r="1.8" fill="#a4a4a4" filter="url(#pb2)"/>
<circle cx="200" cy="305" r="2.8" fill="#a0a0a0" filter="url(#pb2)"/>
<circle cx="200" cy="305" r="1.3" fill="#bdbdbd" filter="url(#pb1)"/>
<circle cx="206" cy="313" r="2.8" fill="#a0a0a0" filter="url(#pb2)"/>
<circle cx="206" cy="313" r="1.3" fill="#bdbdbd" filter="url(#pb1)"/>
<circle cx="199" cy="323" r="2.5" fill="#a0a0a0" filter="url(#pb2)"/>
<circle cx="199" cy="323" r="1.2" fill="#bdbdbd" filter="url(#pb1)"/>
<circle cx="207" cy="334" r="2.8" fill="#a0a0a0" filter="url(#pb2)"/>
<circle cx="207" cy="334" r="1.3" fill="#bdbdbd" filter="url(#pb1)"/>
<circle cx="198" cy="338" r="2.5" fill="#a0a0a0" filter="url(#pb2)"/>
<circle cx="198" cy="338" r="1.2" fill="#bdbdbd" filter="url(#pb1)"/>
<circle cx="216" cy="316" r="2.2" fill="#a0a0a0" filter="url(#pb2)"/>
<circle cx="216" cy="316" r="1.0" fill="#bdbdbd" filter="url(#pb1)"/>
<circle cx="218" cy="330" r="2.2" fill="#a0a0a0" filter="url(#pb2)"/>
<circle cx="218" cy="330" r="1.0" fill="#bdbdbd" filter="url(#pb1)"/>
<circle cx="231" cy="312" r="2.5" fill="#a0a0a0" filter="url(#pb2)"/>
<circle cx="231" cy="312" r="1.2" fill="#bdbdbd" filter="url(#pb1)"/>
<circle cx="236" cy="318" r="2.2" fill="#a0a0a0" filter="url(#pb2)"/>
<circle cx="236" cy="318" r="1.0" fill="#bdbdbd" filter="url(#pb1)"/>
<circle cx="224" cy="300" r="2.2" fill="#a0a0a0" filter="url(#pb2)"/>
<circle cx="224" cy="300" r="1.0" fill="#bdbdbd" filter="url(#pb1)"/>
<circle cx="151" cy="324" r="3.5" fill="#a0a0a0" filter="url(#pb2)"/>
<circle cx="151" cy="324" r="1.6" fill="#bdbdbd" filter="url(#pb1)"/>
<circle cx="158" cy="330" r="3.1" fill="#a0a0a0" filter="url(#pb2)"/>
<circle cx="158" cy="330" r="1.4" fill="#bdbdbd" filter="url(#pb1)"/>
<circle cx="104" cy="344" r="2.5" fill="#a0a0a0" filter="url(#pb2)"/>
<circle cx="104" cy="344" r="1.2" fill="#bdbdbd" filter="url(#pb1)"/>
<circle cx="97" cy="332" r="2.2" fill="#a0a0a0" filter="url(#pb2)"/>
<circle cx="97" cy="332" r="1.0" fill="#bdbdbd" filter="url(#pb1)"/>
<circle cx="58" cy="300" r="2.2" fill="#a0a0a0" filter="url(#pb2)"/>
<circle cx="58" cy="300" r="1.0" fill="#bdbdbd" filter="url(#pb1)"/>
<circle cx="118" cy="330" r="2.1" fill="#a0a0a0" filter="url(#pb2)"/>
<circle cx="118" cy="330" r="1.0" fill="#bdbdbd" filter="url(#pb1)"/>
<circle cx="185" cy="345" r="2.2" fill="#a0a0a0" filter="url(#pb2)"/>
<circle cx="185" cy="345" r="1.0" fill="#bdbdbd" filter="url(#pb1)"/>
 </g>
 <g filter="url(#sb1)">
 <circle cx="36.8" cy="353" r="3.2" fill="#666"/><circle cx="108.6" cy="357" r="1.8" fill="#666"/><circle cx="167.2" cy="342.2" r="1.8" fill="#666"/><circle cx="222.8" cy="346.7" r="2" fill="#666"/><circle cx="40" cy="348" r="2.2" fill="#666"/><circle cx="228" cy="322" r="1.5" fill="#666"/><circle cx="210" cy="345" r="1.5" fill="#666"/><circle cx="109.7" cy="338.8" r="2" fill="#666"/><circle cx="134.3" cy="343.3" r="1.8" fill="#666"/><circle cx="168" cy="341" r="1.8" fill="#666"/><circle cx="219.6" cy="345.6" r="1.8" fill="#666"/><circle cx="89.5" cy="350" r="1.6" fill="#666"/><circle cx="53.6" cy="305.2" r="1.4" fill="#666"/><circle cx="197" cy="303" r="1.4" fill="#666"/><circle cx="150" cy="334" r="1.4" fill="#666"/><circle cx="75" cy="336" r="1.5" fill="#666"/><circle cx="66" cy="362" r="1.3" fill="#666"/><circle cx="186" cy="334" r="1.3" fill="#666"/>
 </g>
 <rect x="24" y="365.6" width="230" height="2" fill="#a0a0a0" filter="url(#sb07)"/>
 <rect x="24" y="367.5" width="230" height="32" fill="#8c8c8c"/>
</g>
<g clip-path="url(#cd)" filter="url(#grain)">
 <rect x="308.5" y="226" width="234" height="175" fill="#a7a7a7"/>
 <rect x="308.5" y="249" width="234" height="14" fill="url(#gbd)"/>
 <rect x="308.5" y="226" width="234" height="24" fill="url(#gtd)"/>
 <path d="M305.0 248.8 L309.1 248.3 L314.7 248.1 L319.2 249.5 L322.5 249.0 L327.3 248.2 L331.5 249.2 L335.8 249.3 L339.3 248.5 L342.6 248.9 L348.4 249.0 L353.7 248.7 L359.0 248.3 L362.8 249.2 L368.0 248.8 L371.3 248.5 L374.9 248.5 L380.3 248.4 L386.0 249.5 L389.1 248.7 L393.6 248.1 L397.9 249.6 L401.2 249.1 L404.6 249.0 L410.3 248.4 L413.3 248.2 L417.9 248.1 L421.2 248.9 L426.9 248.8 L431.1 249.1 L434.4 249.0 L437.9 249.1 L443.8 248.2 L448.5 249.1 L451.9 248.5 L457.9 249.7 L461.3 249.2 L467.1 248.5 L472.0 248.2 L476.1 249.2 L480.8 249.3 L484.1 248.7 L489.7 249.0 L494.0 248.7 L500.0 249.0 L503.0 249.4 L507.0 248.8 L510.7 248.8 L514.6 248.2 L519.5 248.3 L524.9 248.1 L530.2 249.4 L534.7 249.2 L538.5 249.3 L542.7 248.5" fill="none" stroke="#cbcbcb" stroke-width="3" stroke-linejoin="round" filter="url(#sb07)"/>
 <g filter="url(#sb1)" opacity="0.6">
 <circle cx="312.8" cy="266.6" r="1.2" fill="#b6b6b6"/>
<circle cx="342.0" cy="266.6" r="1.0" fill="#959595"/>
<circle cx="344.0" cy="331.3" r="1.5" fill="#b6b6b6"/>
<circle cx="433.7" cy="301.1" r="1.2" fill="#959595"/>
<circle cx="331.5" cy="257.1" r="1.7" fill="#b6b6b6"/>
<circle cx="355.9" cy="289.0" r="1.2" fill="#959595"/>
<circle cx="358.6" cy="277.3" r="1.4" fill="#b6b6b6"/>
<circle cx="530.3" cy="341.4" r="1.2" fill="#b6b6b6"/>
<circle cx="503.2" cy="356.9" r="0.8" fill="#959595"/>
<circle cx="510.6" cy="322.1" r="1.0" fill="#959595"/>
<circle cx="478.6" cy="275.0" r="1.4" fill="#b6b6b6"/>
<circle cx="319.6" cy="289.6" r="1.1" fill="#b6b6b6"/>
<circle cx="459.4" cy="341.1" r="1.8" fill="#959595"/>
<circle cx="539.5" cy="336.4" r="1.1" fill="#b6b6b6"/>
<circle cx="454.1" cy="311.2" r="1.5" fill="#b6b6b6"/>
<circle cx="354.5" cy="349.9" r="1.4" fill="#b6b6b6"/>
<circle cx="332.1" cy="296.1" r="1.7" fill="#b6b6b6"/>
<circle cx="539.1" cy="275.3" r="1.3" fill="#959595"/>
<circle cx="412.7" cy="336.3" r="1.4" fill="#b6b6b6"/>
<circle cx="332.8" cy="356.2" r="0.9" fill="#b6b6b6"/>
<circle cx="387.4" cy="328.5" r="1.7" fill="#b6b6b6"/>
<circle cx="425.1" cy="336.2" r="1.1" fill="#b6b6b6"/>
<circle cx="451.5" cy="320.5" r="0.8" fill="#b6b6b6"/>
<circle cx="341.9" cy="329.7" r="1.5" fill="#959595"/>
<circle cx="487.3" cy="281.2" r="1.6" fill="#959595"/>
<circle cx="390.5" cy="256.2" r="1.2" fill="#b6b6b6"/>
<circle cx="350.7" cy="259.6" r="0.9" fill="#959595"/>
<circle cx="321.5" cy="318.2" r="1.0" fill="#b6b6b6"/>
<circle cx="499.6" cy="285.8" r="1.0" fill="#b6b6b6"/>
<circle cx="470.5" cy="309.0" r="1.7" fill="#b6b6b6"/>
<circle cx="431.1" cy="328.9" r="1.3" fill="#959595"/>
<circle cx="417.9" cy="268.8" r="0.9" fill="#959595"/>
<circle cx="482.1" cy="352.1" r="1.5" fill="#b6b6b6"/>
<circle cx="348.4" cy="342.9" r="0.9" fill="#b6b6b6"/>
<circle cx="342.5" cy="294.2" r="1.1" fill="#b6b6b6"/>
<circle cx="474.3" cy="310.8" r="1.0" fill="#959595"/>
<circle cx="479.8" cy="340.2" r="0.8" fill="#b6b6b6"/>
<circle cx="516.8" cy="281.7" r="1.0" fill="#959595"/>
<circle cx="394.1" cy="296.3" r="1.6" fill="#b6b6b6"/>
<circle cx="355.8" cy="277.1" r="1.1" fill="#b6b6b6"/>
<circle cx="395.1" cy="334.4" r="0.9" fill="#b6b6b6"/>
<circle cx="454.4" cy="304.4" r="1.3" fill="#959595"/>
<circle cx="374.1" cy="273.7" r="0.8" fill="#b6b6b6"/>
<circle cx="378.6" cy="303.8" r="0.8" fill="#b6b6b6"/>
<circle cx="397.7" cy="333.0" r="1.1" fill="#959595"/>
<circle cx="443.8" cy="296.6" r="1.6" fill="#b6b6b6"/>
<circle cx="449.8" cy="342.2" r="1.3" fill="#b6b6b6"/>
<circle cx="332.2" cy="314.1" r="1.0" fill="#b6b6b6"/>
<circle cx="435.3" cy="351.9" r="1.5" fill="#b6b6b6"/>
<circle cx="508.3" cy="286.8" r="1.2" fill="#b6b6b6"/>
<circle cx="438.0" cy="277.8" r="1.2" fill="#959595"/>
<circle cx="366.0" cy="327.7" r="0.8" fill="#959595"/>
<circle cx="468.0" cy="288.3" r="1.8" fill="#959595"/>
<circle cx="324.2" cy="280.6" r="1.3" fill="#959595"/>
<circle cx="342.5" cy="259.9" r="1.1" fill="#b6b6b6"/>
<circle cx="404.5" cy="310.5" r="1.2" fill="#b6b6b6"/>
<circle cx="315.4" cy="337.7" r="1.2" fill="#b6b6b6"/>
<circle cx="420.4" cy="325.6" r="1.7" fill="#959595"/>
<circle cx="478.0" cy="289.9" r="1.0" fill="#b6b6b6"/>
<circle cx="508.4" cy="260.9" r="1.4" fill="#959595"/>
 </g>
 <rect x="308.5" y="250" width="2.6" height="110" fill="#b2b2b2" filter="url(#sb07)"/>
 <g>
 <circle cx="356.2" cy="287.1" r="4.5" fill="#b6b6b6" filter="url(#pb2)"/>
<circle cx="356.2" cy="287.1" r="2.1" fill="#cccccc" filter="url(#pb1)"/>
<circle cx="360.7" cy="300.7" r="5.5" fill="#b6b6b6" filter="url(#pb2)"/>
<circle cx="360.7" cy="300.7" r="2.5" fill="#cccccc" filter="url(#pb1)"/>
<circle cx="398" cy="286.2" r="5.5" fill="#b6b6b6" filter="url(#pb2)"/>
<circle cx="398" cy="286.2" r="2.5" fill="#cccccc" filter="url(#pb1)"/>
<circle cx="389.8" cy="308" r="3.6" fill="#b6b6b6" filter="url(#pb2)"/>
<circle cx="389.8" cy="308" r="1.7" fill="#cccccc" filter="url(#pb1)"/>
<circle cx="350.7" cy="261.6" r="2.9" fill="#b8b8b8" filter="url(#pb2)"/>
<circle cx="437.5" cy="254.5" r="2.9" fill="#b8b8b8" filter="url(#pb2)"/>
<circle cx="472.4" cy="254.5" r="2.9" fill="#b8b8b8" filter="url(#pb2)"/>
<circle cx="527.9" cy="260.9" r="5.1" fill="#b6b6b6" filter="url(#pb2)"/>
<circle cx="527.9" cy="260.9" r="2.7" fill="none" stroke="#d0d0d0" stroke-width="1.5" filter="url(#pb1)"/>
<circle cx="459.4" cy="277.7" r="4.5" fill="#b6b6b6" filter="url(#pb2)"/>
<circle cx="459.4" cy="277.7" r="2.1" fill="#cccccc" filter="url(#pb1)"/>
<circle cx="486.6" cy="285.5" r="5.9" fill="#b6b6b6" filter="url(#pb2)"/>
<circle cx="486.6" cy="285.5" r="3.2" fill="none" stroke="#d0d0d0" stroke-width="1.5" filter="url(#pb1)"/>
<circle cx="508.5" cy="284.2" r="5.9" fill="#b6b6b6" filter="url(#pb2)"/>
<circle cx="508.5" cy="284.2" r="3.2" fill="none" stroke="#d0d0d0" stroke-width="1.5" filter="url(#pb1)"/>
<circle cx="533.1" cy="290.6" r="5.5" fill="#b6b6b6" filter="url(#pb2)"/>
<circle cx="533.1" cy="290.6" r="2.5" fill="#cccccc" filter="url(#pb1)"/>
<circle cx="420.7" cy="295.8" r="5.0" fill="#b8b8b8" filter="url(#pb2)"/>
<circle cx="496.9" cy="310" r="3.6" fill="#b6b6b6" filter="url(#pb2)"/>
<circle cx="496.9" cy="310" r="1.7" fill="#cccccc" filter="url(#pb1)"/>
<circle cx="538.2" cy="273.8" r="2.9" fill="#b8b8b8" filter="url(#pb2)"/>
<circle cx="348.4" cy="323.8" r="5.5" fill="#b6b6b6" filter="url(#pb2)"/>
<circle cx="348.4" cy="323.8" r="2.5" fill="#cccccc" filter="url(#pb1)"/>
<circle cx="317.6" cy="333.4" r="3.6" fill="#b6b6b6" filter="url(#pb2)"/>
<circle cx="317.6" cy="333.4" r="1.7" fill="#cccccc" filter="url(#pb1)"/>
<circle cx="360.1" cy="350.4" r="6.4" fill="#b6b6b6" filter="url(#pb2)"/>
<circle cx="360.1" cy="350.4" r="3.0" fill="#cccccc" filter="url(#pb1)"/>
<circle cx="365.4" cy="355.7" r="4.5" fill="#b6b6b6" filter="url(#pb2)"/>
<circle cx="365.4" cy="355.7" r="2.1" fill="#cccccc" filter="url(#pb1)"/>
<circle cx="385.7" cy="351.5" r="5.5" fill="#b6b6b6" filter="url(#pb2)"/>
<circle cx="385.7" cy="351.5" r="2.5" fill="#cccccc" filter="url(#pb1)"/>
<circle cx="405.9" cy="339.8" r="5.5" fill="#b6b6b6" filter="url(#pb2)"/>
<circle cx="405.9" cy="339.8" r="2.5" fill="#cccccc" filter="url(#pb1)"/>
<circle cx="413.3" cy="340.9" r="4.5" fill="#b6b6b6" filter="url(#pb2)"/>
<circle cx="413.3" cy="340.9" r="2.1" fill="#cccccc" filter="url(#pb1)"/>
<circle cx="446.7" cy="353.3" r="5.9" fill="#b6b6b6" filter="url(#pb2)"/>
<circle cx="446.7" cy="353.3" r="3.2" fill="none" stroke="#d0d0d0" stroke-width="1.5" filter="url(#pb1)"/>
<circle cx="511.1" cy="337.8" r="5.5" fill="#b6b6b6" filter="url(#pb2)"/>
<circle cx="511.1" cy="337.8" r="2.5" fill="#cccccc" filter="url(#pb1)"/>
<circle cx="486.7" cy="327.8" r="2.9" fill="#b8b8b8" filter="url(#pb2)"/>
<circle cx="488.9" cy="342.2" r="5.5" fill="#b6b6b6" filter="url(#pb2)"/>
<circle cx="488.9" cy="342.2" r="2.5" fill="#cccccc" filter="url(#pb1)"/>
<circle cx="480" cy="346.7" r="3.6" fill="#b8b8b8" filter="url(#pb2)"/>
<circle cx="516.7" cy="324.4" r="2.9" fill="#b8b8b8" filter="url(#pb2)"/>
<circle cx="426.7" cy="357.8" r="2.9" fill="#b8b8b8" filter="url(#pb2)"/>
 </g>
 <g filter="url(#sb1)">
 <ellipse cx="328" cy="299.8" rx="3" ry="5" fill="#7e7e7e" transform="rotate(30 328 299.8)"/><ellipse cx="315.3" cy="292.5" rx="1.8" ry="1.8" fill="#7e7e7e" transform="rotate(30 315.3 292.5)"/><ellipse cx="459.4" cy="278.5" rx="1.2" ry="1.2" fill="#7e7e7e" transform="rotate(30 459.4 278.5)"/><ellipse cx="486" cy="286.5" rx="1.5" ry="1.5" fill="#7e7e7e" transform="rotate(30 486 286.5)"/><ellipse cx="495.6" cy="310" rx="1.5" ry="1.5" fill="#7e7e7e" transform="rotate(30 495.6 310)"/><ellipse cx="496" cy="312" rx="1.3" ry="1.3" fill="#7e7e7e" transform="rotate(30 496 312)"/>
 </g>
 <rect x="308.5" y="359.6" width="234" height="2" fill="#b8b8b8" filter="url(#sb07)"/>
 <rect x="308.5" y="361.5" width="234" height="39" fill="#a9a9a9"/>
</g>
<g font-family="Liberation Serif, Times New Roman, serif" font-weight="bold" fill="#fff" stroke="#fff" stroke-width="0.45" font-size="17.4">
<text x="30.3" y="242.9" textLength="65.5" lengthAdjust="spacingAndGlyphs">(c) RQD</text>
<text x="312.9" y="246.9" textLength="68.8" lengthAdjust="spacingAndGlyphs" font-size="18">(d) GQD</text>
</g>
<g font-family="Liberation Sans, Arial, sans-serif" fill="#dcdcdc" stroke="#dcdcdc" stroke-width="0.25" font-size="6.2" filter="url(#sb05)">
<text x="25.6" y="396.9" textLength="158" lengthAdjust="spacingAndGlyphs">S4800 5.0kV 8.6mm x11.0k SE(M) 2/26/2018 10:03</text>
<text x="227.8" y="396.9" textLength="24.5" lengthAdjust="spacingAndGlyphs">5.00um</text>
<text x="311.5" y="398.6" textLength="162" lengthAdjust="spacingAndGlyphs">S-4800 5.0kV 7.8mm x11.0k SE(M) 1/29/2018 11:52</text>
<text x="516.6" y="398.6" textLength="22.7" lengthAdjust="spacingAndGlyphs">5.00um</text>
</g>
<g fill="#d8d8d8" filter="url(#sb05)">
<rect x="150.9" y="387.6" width="1.4" height="1.6"/><rect x="160.7" y="387.6" width="1.4" height="1.6"/><rect x="170.4" y="387.6" width="1.4" height="1.6"/><rect x="180.2" y="387.6" width="1.4" height="1.6"/><rect x="189.9" y="387.6" width="1.4" height="1.6"/><rect x="199.7" y="387.6" width="1.4" height="1.6"/><rect x="209.4" y="387.6" width="1.4" height="1.6"/><rect x="219.2" y="387.6" width="1.4" height="1.6"/><rect x="228.9" y="387.6" width="1.4" height="1.6"/><rect x="238.7" y="387.6" width="1.4" height="1.6"/><rect x="248.4" y="387.6" width="1.4" height="1.6"/>
<rect x="445.5" y="389.4" width="1.4" height="1.6"/><rect x="455.7" y="389.4" width="1.4" height="1.6"/><rect x="465.9" y="389.4" width="1.4" height="1.6"/><rect x="476.1" y="389.4" width="1.4" height="1.6"/><rect x="486.3" y="389.4" width="1.4" height="1.6"/><rect x="496.5" y="389.4" width="1.4" height="1.6"/><rect x="506.7" y="389.4" width="1.4" height="1.6"/><rect x="516.9" y="389.4" width="1.4" height="1.6"/><rect x="527.1" y="389.4" width="1.4" height="1.6"/>
</g>

</svg>
</body></html>
